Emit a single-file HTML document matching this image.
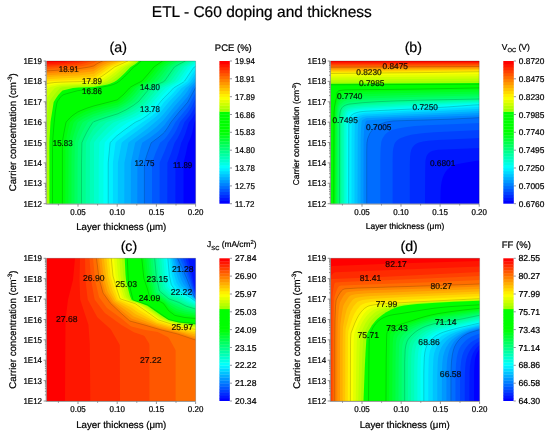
<!DOCTYPE html>
<html><head><meta charset="utf-8"><title>ETL - C60 doping and thickness</title>
<style>
html,body{margin:0;padding:0;background:#fff}
svg{display:block;font-family:"Liberation Sans",Arial,sans-serif;fill:#000;text-rendering:geometricPrecision}
text{stroke:#000;stroke-width:.22px}
.tk{font-size:8.4px}
</style></head><body>
<svg width="550" height="435" viewBox="0 0 550 435" shape-rendering="geometricPrecision">
<rect width="550" height="435" fill="#fff"/>
<text x="261.8" y="17.2" text-anchor="middle" font-size="15.5" stroke-width=".1">ETL - C60 doping and thickness</text>
<g><rect x="45.1" y="59.5" width="152" height="145.7" fill="#0000ff"/>
<path fill="#0016ff" d="M46.6,59.5 197.1,59.5 197.1,120.3 195.6,120.3 194.5,121.9 192.2,132.8 190.6,137.8 188.3,142.8 187.6,145.1 185.6,154.5 183.5,162.8 183.5,205.2 45.1,205.2 45.1,59.5Z"/>
<path fill="#002bff" d="M46.6,59.5 197.1,59.5 197.1,112.5 195.6,112.5 193.1,116.9 191,119.9 189.2,121.9 188.7,122.9 185.3,133.8 183.6,138 181.3,142.8 178.6,153 175.5,162.8 175.4,205.2 45.1,205.2 45.1,59.5Z"/>
<path fill="#0041ff" d="M46.6,59.5 197.1,59.5 197.1,104.8 195.6,104.8 193.2,109.9 190.9,113.9 188.7,116.9 184.5,121.9 181.9,128.9 179.7,133.8 177.6,137.9 174.6,142.8 171.3,152.8 167.4,162.8 167.3,205.2 45.1,205.2 45.1,59.5Z"/>
<path fill="#0057ff" d="M46.6,59.5 197.1,59.5 197.1,98.4 195.6,98.4 191.4,106.9 189,110.9 187.6,112.9 180,121.9 176.9,128.9 174.6,133.2 171.6,137.8 167.9,142.8 164.6,151.3 159.6,162.8 159.6,205.2 45.1,205.2 45.1,59.5Z"/>
<path fill="#006dff" d="M46.6,59.5 197.1,59.5 197.1,93 195.6,93 189.6,104.3 187.6,107.6 175.5,121.9 171.6,129.3 167.6,135.3 164.6,139 160.1,142.8 155.7,152.8 152,162.8 152,205.2 45.1,205.2 45.1,59.5Z"/>
<path fill="#0082ff" d="M46.6,59.5 197.1,59.5 197.1,87.7 195.6,87.7 195.4,87.9 187.6,102.3 179.2,111.9 171.1,121.9 167.6,127.7 164.6,132 162.7,133.8 159.2,136.8 151.2,142.8 148.9,148.8 144.4,162.8 144.4,205.2 45.1,205.2 45.1,59.5Z"/>
<path fill="#0098ff" d="M46.6,59.5 197.1,59.5 197.1,84.6 195.6,84.6 192.3,87.9 187.6,96.7 172.1,114.9 166.6,121.9 164.6,124.9 163.6,126.1 158.7,130.9 153.9,134.8 149.6,138 142.2,142.8 140.6,148.3 137.4,162.8 137.3,205.2 45.1,205.2 45.1,59.5Z"/>
<path fill="#00aeff" d="M46.6,59.5 197.1,59.5 197.1,81.5 195.6,81.5 193.3,84 190.2,86.9 189.3,87.9 187.6,91 184.6,94.9 174.6,106.3 163.5,119.9 156.2,126.9 151.6,130.8 146.3,134.8 140.6,138.5 136.2,141.8 135.2,142.8 130.9,162.8 130.8,205.2 45.1,205.2 45.1,59.5Z"/>
<path fill="#00c3ff" d="M46.6,59.5 197.1,59.5 197.1,77.6 195.6,77.6 192.5,82 188.6,85.7 185.8,87.9 180.2,94.9 173.6,101.9 163.6,114 160,117.9 147.6,128.5 132.6,139.4 129.4,141.8 128.4,142.8 124.4,162.8 124.3,205.2 45.1,205.2 45.1,59.5Z"/>
<path fill="#00d9ff" d="M46.6,59.5 197.1,59.5 197.1,73.5 195.6,73.5 190.6,81 189.8,82 187.6,84 181.7,87.9 175.6,95.1 168.8,101.9 160.7,111.9 156.6,116.1 153.6,118.6 149,121.9 142.6,127.1 126.6,138.8 122.7,141.8 121.7,142.8 117.9,162.8 117.8,205.2 45.1,205.2 45.1,59.5Z"/>
<path fill="#00efff" d="M46.6,59.5 197.1,59.5 197.1,69.4 195.6,69.4 191.6,74.9 187.6,81.3 184.6,83.6 177.7,87.9 171.6,94.7 164.1,101.9 161.3,105.9 158.6,109.2 155.6,112.4 152.6,115.2 148.6,118.3 142.9,121.9 127.6,132.9 117.6,140.5 116.2,141.8 115.5,142.8 112.9,162.8 112.9,205.2 45.1,205.2 45.1,59.5Z"/>
<path fill="#00fffa" d="M46.6,59.5 197.1,59.5 197.1,66.2 195.6,66.2 194.3,67 193.4,68 190.6,72 184.6,81 183.5,82 181.6,83.2 173.6,87.9 169,92.9 163.6,98.2 160.4,101.9 158.1,104.9 155.6,107.9 152.6,110.9 149.6,113.6 145.6,116.6 142.1,118.9 134.3,122.9 124.6,129.9 116.6,136 111.7,140.8 110.1,142.8 108.2,162.8 108.2,205.2 45.1,205.2 45.1,59.5Z"/>
<path fill="#00ffe4" d="M46.6,59.5 197.1,59.5 197.1,64.1 195.6,64.1 191,67 189.4,69 181.3,81 180.2,82 177.6,83.5 169.6,87.9 162.8,94.9 153.3,105.9 149.3,109.9 144.6,113.7 140.6,116.5 134.6,119.5 128.8,121.9 127,122.9 123.6,125.3 117.6,129.8 115.2,131.9 110,136.8 105.4,141.8 104.7,142.8 103.5,162.8 103.4,205.2 45.1,205.2 45.1,59.5Z"/>
<path fill="#00ffce" d="M46.6,59.5 197.1,59.5 197.1,62 195.6,62 191.6,64.7 187.7,67 178,81 176.8,82 174.6,83.2 165.5,87.9 159.6,94.3 151.3,103.9 145.6,109.3 140.6,113.1 135.8,115.9 130.6,118.4 121.6,121.9 119.7,122.9 114.6,126.9 109.6,131.4 104.6,136.5 100,141.8 99.4,142.8 98.7,162.8 98.7,205.2 45.1,205.2 45.1,59.5Z"/>
<path fill="#00ffb8" d="M46.6,59.5 194.2,59.5 194.2,61 189.6,64.1 184.4,67 174.7,81 173.4,82 171.6,83 163.3,86.9 161.6,87.9 155.6,94.6 149.4,101.9 146.4,104.9 143,107.9 138.6,111.2 131.6,115.1 123.6,118.7 114.4,121.9 112.7,122.9 107.6,127.3 103,131.9 98.6,136.8 94.5,141.8 94,142.8 94,205.2 45.1,205.2 45.1,59.5Z"/>
<path fill="#00ffa3" d="M46.6,59.5 191.5,59.5 191.5,61 187.6,63.5 181,67 171.3,81 170,82 168.1,83 159.4,86.9 157.7,87.9 145.7,101.9 140.6,106.5 134,110.9 126.6,114.8 118.6,118.1 107.4,121.9 105.8,122.9 99.6,128.9 93.6,135.8 90.8,140.8 89.9,142.8 89.8,205.2 45.1,205.2 45.1,59.5Z"/>
<path fill="#00ff8d" d="M46.6,59.5 188.8,59.5 188.8,61 177.7,67 168,81 166.6,82 164.6,83 155.5,86.9 153.9,87.9 142,101.9 137.6,105.5 130.6,110 126.6,112.2 121.6,114.5 117.6,116.2 100.5,121.9 99,122.9 93.6,128.6 89.3,135.8 86.7,140.8 85.9,142.8 85.7,162.8 85.7,205.2 45.1,205.2 45.1,59.5Z"/>
<path fill="#00ff77" d="M46.6,59.5 185.5,59.5 185.5,61 179.6,64 174.4,67 164.7,81 163.1,82 151.7,86.9 150,87.9 138.6,101.5 133.6,105.3 126,109.9 117.6,113.9 106.6,117.3 98.6,120 93.6,121.8 92.5,122.9 89.6,127.3 86.6,132.6 83.6,138.7 81.9,142.8 81.5,162.8 81.5,205.2 45.1,205.2 45.1,59.5Z"/>
<path fill="#00ff62" d="M46.6,59.5 181.6,59.5 181.6,61 176,64 171.1,67 164.6,76.3 160.9,81 159.3,82 147.8,86.9 146.1,87.9 136.2,99.9 134.2,101.9 131.4,103.9 124.9,107.9 117.6,111.6 104.6,115.5 93.6,119.2 88.3,121.9 87.4,122.9 84.6,127.7 82,132.8 78.9,139.8 77.9,142.8 77.5,162.8 77.5,205.2 45.1,205.2 45.1,59.5Z"/>
<path fill="#00ff4c" d="M46.6,59.5 177.8,59.5 177.8,61 172.6,63.9 167.8,67 163.6,72.8 157.2,81 155.5,82 143.9,86.9 142.3,87.9 137.6,94 134.6,97.5 131.3,100.9 128.6,103 123.6,106.1 117.6,109.3 103.6,113.3 93.6,116.5 84.9,120.9 83.1,121.9 82.3,122.9 79.3,128.9 77.6,132.9 74.8,142.8 74.5,162.8 74.5,205.2 45.1,205.2 45.1,59.5Z"/>
<path fill="#00ff36" d="M46.6,59.5 174,59.5 174,61 168.9,64 164.5,67 158.6,74.6 153.4,81 151.7,82 140.6,86.7 138.9,87.9 135.9,91.9 132.5,95.9 128.5,99.9 125.6,102.4 117.6,107 102.6,111.1 92.6,114.3 84.6,118 78,121.9 77.4,122.9 75.1,129.9 73.1,136.8 71.7,142.8 71.4,162.8 71.4,205.2 45.1,205.2 45.1,59.5Z"/>
<path fill="#00ff21" d="M46.6,59.5 170.1,59.5 170.1,61 166.6,63.1 161,67 154.6,75 149.6,81 147.9,82 139.6,85.6 137.1,86.9 135.8,87.9 132.6,91.9 129.6,95.3 125.9,98.9 122.3,101.9 117.6,104.7 116.6,105 99.6,109.5 93.6,111.3 89.4,112.9 83.6,115.5 78.6,118.2 76.6,119.6 74.1,121.9 73.5,122.9 71.3,130.9 68.5,142.8 68.4,205.2 45.1,205.2 45.1,59.5Z"/>
<path fill="#00ff0b" d="M46.6,59.5 166.3,59.5 166.3,61 157.4,67 150.9,75 145.8,81 144.1,82 138.6,84.4 134,86.9 132.7,87.9 129.3,91.9 125.4,95.9 121.6,99.4 118.4,101.9 116.6,102.7 104.6,105.6 93.6,108.6 85.6,111.6 80.6,113.9 77.6,115.4 73.6,118.5 70.2,121.9 69.7,122.9 67.8,130.9 65.4,142.8 65.3,205.2 45.1,205.2 45.1,59.5Z"/>
<path fill="#00ff00" d="M46.6,59.5 162.6,59.5 162.6,61 153.9,67 147.3,75 142,81 134.6,84.8 130.9,86.9 129.6,87.9 123.6,94.4 117.6,99.6 116.6,100 109.7,101.9 93.6,106 86.6,108.3 80.6,110.7 77.6,112.1 72.6,115.5 69.6,118.2 66.3,121.9 65.9,122.9 64.1,131.9 62.6,140.5 62.4,142.8 62.4,205.2 45.1,205.2 45.1,59.5Z"/>
<path fill="#00ff00" d="M46.6,59.5 159,59.5 159,61 150.4,67 138.2,81 131.6,84.6 127.8,86.9 126.6,87.9 121.7,92.9 117.6,96.6 116.6,97.1 114.6,97.7 88.6,104.7 82.6,106.7 77.6,108.7 73.6,111 69.6,113.9 65.6,117.8 62.6,121.6 61.6,131.2 60.8,142.8 60.8,205.2 45.1,205.2 45.1,59.5Z"/>
<path fill="#00ff00" d="M46.6,59.5 155.4,59.5 155.4,61 146.8,67 138.2,77 134.5,81 128.6,84.4 124.7,86.9 117.6,93.6 115.6,94.4 85,102.9 77.6,105.4 73.6,107.2 69.2,109.9 65.6,112.8 62.6,115.9 61.6,118.6 60.8,121.9 59.4,142.8 59.4,205.2 45.1,205.2 45.1,59.5Z"/>
<path fill="#00ff00" d="M46.6,59.5 151.8,59.5 151.8,61 143.3,67 136.5,75 130.8,81 122.6,86.2 120.4,87.9 117.6,90.7 116.6,91.2 98.6,96.3 83.6,100.1 75.6,102.7 71.6,104.3 68.5,105.9 65.4,107.9 62.6,110.2 61.6,112.4 60.8,114.9 59.2,121.9 57.9,141.8 57.9,205.2 45.1,205.2 45.1,59.5Z"/>
<path fill="#00ff00" d="M46.6,59.5 148.2,59.5 148.2,61 139.9,67 133.6,74.4 127.1,81 121.6,84.6 117.6,87.7 116.6,88.3 93.6,94.8 84.6,96.5 77.6,98.3 67.3,101.9 63.6,103.8 62.6,104.4 62.3,104.9 60.9,107.9 59.6,111.9 58.2,117.9 57.5,122.9 56.4,142.8 56.4,205.2 45.1,205.2 45.1,59.5Z"/>
<path fill="#00ff00" d="M46.6,59.5 144.6,59.5 144.6,61 141.6,63.1 138.6,65.7 136.8,67 130.6,74 125.6,79 123.4,81 116.6,85.6 113.6,86.5 107.6,87.9 93.6,91.9 82.6,93.5 78.6,94.3 75.6,95.1 68.6,97.3 62.6,99.4 61.6,100.4 60.5,101.9 59,105.9 57.7,110.9 56.6,116.9 55.9,122.9 55,142.8 55,205.2 45.1,205.2 45.1,59.5Z"/>
<path fill="#00ff00" d="M46.6,59.5 141.2,59.5 141.2,61 139.1,63 136.6,65.1 133.7,67 128.6,72.6 124.2,77 119.7,81 116.6,83.1 113.6,84.4 109.6,85.6 97.6,87.9 93.6,89.1 84.6,89.9 77.6,90.7 66.6,93.7 62.6,95 60.6,97 57.8,100.9 57.2,101.9 56.6,104.2 55.3,111.9 54.1,122.9 52.5,142.8 52.5,205.2 45.1,205.2 45.1,59.5Z"/>
<path fill="#a3ff00" d="M46.6,59.5 138.9,59.5 138.9,61 137.6,62.2 134.6,64.6 130.6,67 124.9,73 120.7,77 116.6,80.4 114.1,82 110.6,83.4 107.6,84.4 99.6,86.1 93.6,87 78.6,87.5 73,87.9 62.6,90.6 61,91.9 58.3,94.9 56.2,97.9 53.7,101.9 50.5,121.9 49.4,141.8 49.4,205.2 45.1,205.2 45.1,59.5Z"/>
<path fill="#b8ff00" d="M46.6,59.5 136.7,59.5 136.7,61 135.6,62 131.6,64.8 127.5,67 121.6,72.9 117.6,76.6 111.6,81 108.6,82.3 101.6,84.4 93.6,85.9 77.6,86.2 68.6,86.7 62.6,87.2 60.2,87.9 56.4,91.9 51.6,98.2 49.2,101.9 47.7,112.9 46.6,122.5 45.1,122.5 45.1,59.5Z"/>
<path fill="#ceff00" d="M46.6,59.5 134.5,59.5 134.5,61 133.3,62 129.6,64.5 124.4,67 116.6,74.3 108.6,80.1 107.3,81 105.6,81.7 100.6,83.3 93.6,84.8 77.6,85.1 62.6,85.9 57.3,86.9 54.9,87.9 52.6,90.4 49.6,93.9 46.6,98.4 45.1,98.4 45.1,59.5Z"/>
<path fill="#e4ff00" d="M46.6,59.5 132.4,59.5 132.4,61 131,62 127.6,64.1 121.2,67 116.6,71.3 110.6,75.8 103,81 100.5,82 93.6,83.6 77.6,83.9 62.6,84.6 60.6,84.8 56.6,85.6 50.7,86.9 48.5,87.9 46.6,90.2 45.1,90.2 45.1,59.5Z"/>
<path fill="#faff00" d="M46.6,59.5 130.2,59.5 130.2,61 128.8,62 118.1,67 111.6,72.2 104.6,77.2 98.8,81 96,82 93.6,82.5 77.6,82.8 61.6,83.4 53.6,84.4 46.6,86 45.1,86 45.1,59.5Z"/>
<path fill="#ffef00" d="M46.6,59.5 128,59.5 128,61 114.6,67 108,72 102.6,75.8 95.6,80.3 94.5,81 93.6,81.2 60.6,82.2 53.6,82.6 46.6,83.6 45.1,83.6 45.1,59.5Z"/>
<path fill="#ffd900" d="M46.6,59.5 124.8,59.5 124.8,61 117.6,64.2 110.9,67 101.6,73.8 93.6,78.9 77.6,79.8 54.6,80.7 46.6,81.3 45.1,81.3 45.1,59.5Z"/>
<path fill="#ffc300" d="M46.6,59.5 121.5,59.5 121.5,61 117.6,62.8 111.5,65 107.2,67 99.6,72.5 93.6,76.4 78.6,77.6 54.6,78.7 46.6,79.3 45.1,79.3 45.1,59.5Z"/>
<path fill="#ffae00" d="M46.6,59.5 118.2,59.5 118.2,61 110.6,63.7 105.4,66 103.5,67 93.6,73.8 77.6,75.4 54.6,76.6 46.6,77.2 45.1,77.2 45.1,59.5Z"/>
<path fill="#ff9800" d="M46.6,59.5 113.4,59.5 113.4,61 107.7,63 103.3,65 99.8,67 93.6,71.3 77.6,73.3 46.6,75.2 45.1,75.2 45.1,59.5Z"/>
<path fill="#ff8200" d="M46.6,59.5 108,59.5 108,61 104.6,62.3 100.6,64.2 97.6,66 93.6,68.7 77.6,71.1 46.6,73.2 45.1,73.2 45.1,59.5Z"/>
<path fill="#ff6d00" d="M46.6,59.5 102.7,59.5 102.7,61 97.6,63.4 93.6,66 90.6,66.7 77.6,68.9 46.6,71.1 45.1,71.1 45.1,59.5Z"/>
<path fill="#ff5700" d="M46.6,59.5 97.3,59.5 97.3,61 93.6,63.1 88.6,64.6 82.6,66 77.6,66.8 46.6,69.1 45.1,69.1 45.1,59.5Z"/>
<path fill="#ff4100" d="M46.6,59.5 91.5,59.5 91.5,61 85.6,63 78.6,64.7 65.2,66 46.6,67.1 45.1,67.1 45.1,59.5Z"/>
<path fill="#ff2b00" d="M46.6,59.5 84.8,59.5 84.8,61 77.6,63 62.6,64.7 46.6,65.5 45.1,65.5 45.1,59.5Z"/>
<path fill="#ff1600" d="M46.6,59.5 78,59.5 78,61 71.6,62 62.6,63.2 46.6,63.9 45.1,63.9 45.1,59.5Z"/>
<path fill="#ff0000" d="M46.6,59.5 67.4,59.5 67.4,61 64.6,61.4 61.6,61.7 54.6,62.1 46.6,62.4 45.1,62.4 45.1,59.5Z"/>
<path fill="none" stroke="#000" stroke-opacity=".28" stroke-width=".6" d="M197.1,87.7 195.6,87.7 195.4,87.9 187.6,102.3 179.2,111.9 171.1,121.9 167.6,127.7 164.6,132 162.7,133.8 159.2,136.8 151.2,142.8 147.6,152.6 144.4,162.8 144.4,205.2M197.1,66.2 195.6,66.2 194.3,67 193.4,68 190.6,72 184.6,81 183.5,82 181.6,83.2 173.6,87.9 169,92.9 163.6,98.2 160.4,101.9 158.1,104.9 155.6,107.9 150.6,112.7 146.6,115.9 142.6,118.6 140.6,119.8 136,121.9 134.3,122.9 123.6,130.6 116.6,136 111.7,140.8 110.1,142.8 108.2,162.8 108.2,205.2M185.5,59.5 185.5,61 179.6,64 174.4,67 164.7,81 163.1,82 151.7,86.9 150,87.9 138.6,101.5 133.6,105.3 126,109.9 117.6,113.9 106.6,117.3 98.6,120 93.6,121.8 92.5,122.9 89.6,127.3 86.6,132.6 83.6,138.7 81.9,142.8 81.5,162.8 81.5,205.2M162.6,59.5 162.6,61 153.9,67 147.3,75 142,81 134.6,84.8 130.9,86.9 129.6,87.9 123.6,94.4 117.6,99.6 116.6,100 109.7,101.9 93.6,106 86.6,108.3 80.6,110.7 77.6,112.1 72.6,115.5 69.6,118.2 66.3,121.9 65.9,122.9 64.1,131.9 62.6,140.5 62.4,142.8 62.4,205.2M141.2,59.5 141.2,61 139.1,63 136.6,65.1 133.7,67 128.6,72.6 124.2,77 119.7,81 116.6,83.1 113.6,84.4 109.6,85.6 97.6,87.9 93.6,89.1 84.6,89.9 77.6,90.7 66.6,93.7 62.6,95 60.6,97 57.8,100.9 57.2,101.9 56.6,104.2 55.3,111.9 54.1,122.9 52.5,142.8 52.5,205.2M128,59.5 128,61 114.6,67 108,72 102.6,75.8 95.6,80.3 94.5,81 93.6,81.2 60.6,82.2 54.6,82.5 46.6,83.6 45.1,83.6M102.7,59.5 102.7,61 97.6,63.4 93.6,66 89.6,67 77.6,68.9 45.1,71.1"/>
<path fill="#fff" fill-rule="evenodd" d="M42.6,57H199.6V207.7H42.6ZM46.6,61H195.6V203.7H46.6Z"/>
<path fill="none" stroke="#000" stroke-opacity=".35" stroke-width=".6" d="M46.6,61H195.6V203.7"/>
<path fill="none" stroke="#666" stroke-width=".7" d="M46.2,61 V204.1M46.2,204.1 H195.6M46.2,61.0 h-2.6M46.2,75.2 h-1.3M46.2,71.7 h-1.3M46.2,69.1 h-1.3M46.2,67.1 h-1.3M46.2,65.5 h-1.3M46.2,64.2 h-1.3M46.2,63.0 h-1.3M46.2,61.9 h-1.3M46.2,81.4 h-2.6M46.2,95.6 h-1.3M46.2,92.0 h-1.3M46.2,89.5 h-1.3M46.2,87.5 h-1.3M46.2,85.9 h-1.3M46.2,84.5 h-1.3M46.2,83.4 h-1.3M46.2,82.3 h-1.3M46.2,101.8 h-2.6M46.2,116.0 h-1.3M46.2,112.4 h-1.3M46.2,109.9 h-1.3M46.2,107.9 h-1.3M46.2,106.3 h-1.3M46.2,104.9 h-1.3M46.2,103.7 h-1.3M46.2,102.7 h-1.3M46.2,122.2 h-2.6M46.2,136.4 h-1.3M46.2,132.8 h-1.3M46.2,130.3 h-1.3M46.2,128.3 h-1.3M46.2,126.7 h-1.3M46.2,125.3 h-1.3M46.2,124.1 h-1.3M46.2,123.1 h-1.3M46.2,142.5 h-2.6M46.2,156.8 h-1.3M46.2,153.2 h-1.3M46.2,150.7 h-1.3M46.2,148.7 h-1.3M46.2,147.1 h-1.3M46.2,145.7 h-1.3M46.2,144.5 h-1.3M46.2,143.5 h-1.3M46.2,162.9 h-2.6M46.2,177.2 h-1.3M46.2,173.6 h-1.3M46.2,171.0 h-1.3M46.2,169.1 h-1.3M46.2,167.5 h-1.3M46.2,166.1 h-1.3M46.2,164.9 h-1.3M46.2,163.9 h-1.3M46.2,183.3 h-2.6M46.2,197.6 h-1.3M46.2,194.0 h-1.3M46.2,191.4 h-1.3M46.2,189.5 h-1.3M46.2,187.8 h-1.3M46.2,186.5 h-1.3M46.2,185.3 h-1.3M46.2,184.2 h-1.3M46.2,203.7 h-2.6M78.0,204.1 v2.6M117.2,204.1 v2.6M156.4,204.1 v2.6M195.6,204.1 v2.6M58.4,204.1 v1.4M97.6,204.1 v1.4M136.8,204.1 v1.4M176.0,204.1 v1.4"/>
<g class="tk"><text transform="translate(42,64.0) scale(.95,1)" text-anchor="end">1E19</text><text transform="translate(42,84.4) scale(.95,1)" text-anchor="end">1E18</text><text transform="translate(42,104.8) scale(.95,1)" text-anchor="end">1E17</text><text transform="translate(42,125.2) scale(.95,1)" text-anchor="end">1E16</text><text transform="translate(42,145.5) scale(.95,1)" text-anchor="end">1E15</text><text transform="translate(42,165.9) scale(.95,1)" text-anchor="end">1E14</text><text transform="translate(42,186.3) scale(.95,1)" text-anchor="end">1E13</text><text transform="translate(42,206.7) scale(.95,1)" text-anchor="end">1E12</text><text transform="translate(78.0,214.9) scale(.95,1)" text-anchor="middle">0.05</text><text transform="translate(117.2,214.9) scale(.95,1)" text-anchor="middle">0.10</text><text transform="translate(156.4,214.9) scale(.95,1)" text-anchor="middle">0.15</text><text transform="translate(195.6,214.9) scale(.95,1)" text-anchor="middle">0.20</text></g>
<text transform="translate(15.6,132.3) rotate(-90)" text-anchor="middle" font-size="9.7">Carrier concentration (cm<tspan font-size="6.3" dy="-3.9">-3</tspan><tspan dy="3.9">)</tspan></text>
<text x="121.3" y="230" text-anchor="middle" font-size="9.7">Layer thickness (&#956;m)</text>
<text x="118.2" y="51.7" text-anchor="middle" font-size="14.2">(a)</text>
<g class="tk" text-anchor="middle" opacity=".88" style="font-size:8.4px"><text transform="translate(68.7,71.9) scale(0.95,1)">18.91</text><text transform="translate(92,83.7) scale(0.95,1)">17.89</text><text transform="translate(92,93.8) scale(0.95,1)">16.86</text><text transform="translate(150,90.4) scale(0.95,1)">14.80</text><text transform="translate(150,111.7) scale(0.95,1)">13.78</text><text transform="translate(62.7,145.8) scale(0.95,1)">15.83</text><text transform="translate(144.5,166) scale(0.95,1)">12.75</text><text transform="translate(182.6,167.6) scale(0.95,1)">11.89</text></g>
<rect x="219.4" y="200.73" width="10.4" height="2.97" fill="#0000ff"/>
<rect x="219.4" y="197.75" width="10.4" height="3.27" fill="#0016ff"/>
<rect x="219.4" y="194.78" width="10.4" height="3.27" fill="#002bff"/>
<rect x="219.4" y="191.81" width="10.4" height="3.27" fill="#0041ff"/>
<rect x="219.4" y="188.84" width="10.4" height="3.27" fill="#0057ff"/>
<rect x="219.4" y="185.86" width="10.4" height="3.27" fill="#006dff"/>
<rect x="219.4" y="182.89" width="10.4" height="3.27" fill="#0082ff"/>
<rect x="219.4" y="179.92" width="10.4" height="3.27" fill="#0098ff"/>
<rect x="219.4" y="176.94" width="10.4" height="3.27" fill="#00aeff"/>
<rect x="219.4" y="173.97" width="10.4" height="3.27" fill="#00c3ff"/>
<rect x="219.4" y="171.00" width="10.4" height="3.27" fill="#00d9ff"/>
<rect x="219.4" y="168.02" width="10.4" height="3.27" fill="#00efff"/>
<rect x="219.4" y="165.05" width="10.4" height="3.27" fill="#00fffa"/>
<rect x="219.4" y="162.08" width="10.4" height="3.27" fill="#00ffe4"/>
<rect x="219.4" y="159.11" width="10.4" height="3.27" fill="#00ffce"/>
<rect x="219.4" y="156.13" width="10.4" height="3.27" fill="#00ffb8"/>
<rect x="219.4" y="153.16" width="10.4" height="3.27" fill="#00ffa3"/>
<rect x="219.4" y="150.19" width="10.4" height="3.27" fill="#00ff8d"/>
<rect x="219.4" y="147.21" width="10.4" height="3.27" fill="#00ff77"/>
<rect x="219.4" y="144.24" width="10.4" height="3.27" fill="#00ff62"/>
<rect x="219.4" y="141.27" width="10.4" height="3.27" fill="#00ff4c"/>
<rect x="219.4" y="138.30" width="10.4" height="3.27" fill="#00ff36"/>
<rect x="219.4" y="135.32" width="10.4" height="3.27" fill="#00ff21"/>
<rect x="219.4" y="132.35" width="10.4" height="3.27" fill="#00ff0b"/>
<rect x="219.4" y="129.38" width="10.4" height="3.27" fill="#00ff00"/>
<rect x="219.4" y="126.40" width="10.4" height="3.27" fill="#00ff00"/>
<rect x="219.4" y="123.43" width="10.4" height="3.27" fill="#00ff00"/>
<rect x="219.4" y="120.46" width="10.4" height="3.27" fill="#00ff00"/>
<rect x="219.4" y="117.49" width="10.4" height="3.27" fill="#00ff00"/>
<rect x="219.4" y="114.51" width="10.4" height="3.27" fill="#00ff00"/>
<rect x="219.4" y="111.54" width="10.4" height="3.27" fill="#00ff00"/>
<rect x="219.4" y="108.57" width="10.4" height="3.27" fill="#a3ff00"/>
<rect x="219.4" y="105.59" width="10.4" height="3.27" fill="#b8ff00"/>
<rect x="219.4" y="102.62" width="10.4" height="3.27" fill="#ceff00"/>
<rect x="219.4" y="99.65" width="10.4" height="3.27" fill="#e4ff00"/>
<rect x="219.4" y="96.67" width="10.4" height="3.27" fill="#faff00"/>
<rect x="219.4" y="93.70" width="10.4" height="3.27" fill="#ffef00"/>
<rect x="219.4" y="90.73" width="10.4" height="3.27" fill="#ffd900"/>
<rect x="219.4" y="87.76" width="10.4" height="3.27" fill="#ffc300"/>
<rect x="219.4" y="84.78" width="10.4" height="3.27" fill="#ffae00"/>
<rect x="219.4" y="81.81" width="10.4" height="3.27" fill="#ff9800"/>
<rect x="219.4" y="78.84" width="10.4" height="3.27" fill="#ff8200"/>
<rect x="219.4" y="75.86" width="10.4" height="3.27" fill="#ff6d00"/>
<rect x="219.4" y="72.89" width="10.4" height="3.27" fill="#ff5700"/>
<rect x="219.4" y="69.92" width="10.4" height="3.27" fill="#ff4100"/>
<rect x="219.4" y="66.95" width="10.4" height="3.27" fill="#ff2b00"/>
<rect x="219.4" y="63.97" width="10.4" height="3.27" fill="#ff1600"/>
<rect x="219.4" y="61.00" width="10.4" height="3.27" fill="#ff0000"/>
<line x1="229.8" x2="232" y1="203.7" y2="203.7" stroke="#667" stroke-width=".7"/>
<line x1="229.8" x2="232" y1="185.9" y2="185.9" stroke="#667" stroke-width=".7"/>
<line x1="229.8" x2="232" y1="168.0" y2="168.0" stroke="#667" stroke-width=".7"/>
<line x1="229.8" x2="232" y1="150.2" y2="150.2" stroke="#667" stroke-width=".7"/>
<line x1="229.8" x2="232" y1="132.3" y2="132.3" stroke="#667" stroke-width=".7"/>
<line x1="229.8" x2="232" y1="114.5" y2="114.5" stroke="#667" stroke-width=".7"/>
<line x1="229.8" x2="232" y1="96.7" y2="96.7" stroke="#667" stroke-width=".7"/>
<line x1="229.8" x2="232" y1="78.8" y2="78.8" stroke="#667" stroke-width=".7"/>
<line x1="229.8" x2="232" y1="61.0" y2="61.0" stroke="#667" stroke-width=".7"/>
<g class="tk" style="font-size:8.4px"><text transform="translate(235,206.7) scale(0.95,1)">11.72</text><text transform="translate(235,188.9) scale(0.95,1)">12.75</text><text transform="translate(235,171.0) scale(0.95,1)">13.78</text><text transform="translate(235,153.2) scale(0.95,1)">14.80</text><text transform="translate(235,135.4) scale(0.95,1)">15.83</text><text transform="translate(235,117.5) scale(0.95,1)">16.86</text><text transform="translate(235,99.7) scale(0.95,1)">17.89</text><text transform="translate(235,81.8) scale(0.95,1)">18.91</text><text transform="translate(235,64.0) scale(0.95,1)">19.94</text></g>
<text x="214.8" y="51.1" font-size="9.5">PCE (%)</text></g>
<g><rect x="329.2" y="59.5" width="151.5" height="145.7" fill="#0000ff"/>
<path fill="#0016ff" d="M330.7,59.5 480.7,59.5 480.7,160.5 476.4,160.8 466.2,162.4 459.1,163.7 454.6,164.8 452.3,165.8 450.7,166.8 449.1,168 447.2,169.8 445.6,171.8 443.9,174.8 442.7,177.8 441.6,181.7 441,185.7 440.6,190.7 440.3,205.2 329.2,205.2 329.2,59.5Z"/>
<path fill="#002bff" d="M330.7,59.5 480.7,59.5 480.7,148.1 450.1,149.2 438.1,149.8 435.1,150.3 432,151.1 430,152 428,153.7 427,155.2 426.3,156.8 425.6,159.8 425.4,161.8 425.2,170.8 425,205.2 329.2,205.2 329.2,59.5Z"/>
<path fill="#0041ff" d="M330.7,59.5 480.7,59.5 480.7,137.9 438.1,140 428,140.7 423,141.4 419,142.5 416.1,143.8 414,145.5 412.2,147.8 411.3,149.8 410.5,152.8 410.1,156.8 409.8,164.8 409.8,205.2 329.2,205.2 329.2,59.5Z"/>
<path fill="#0057ff" d="M330.7,59.5 480.7,59.5 480.7,130 434,132.3 425,133 418,133.7 411.1,134.8 404.9,136.5 400.9,138 398.9,139.1 396.9,140.6 395,142.8 394.2,144.8 393.4,147.8 392.8,151.8 392.6,161.8 392.6,205.2 329.2,205.2 329.2,59.5Z"/>
<path fill="#006dff" d="M330.7,59.5 480.7,59.5 480.7,123 427,125.3 415,126.1 405,127.2 397.9,128.4 391.9,129.9 388.9,131.5 387,132.8 384.9,134.8 383.9,136.2 382.3,138.8 381.3,141.8 380.6,148.8 380.3,159.8 380.3,205.2 329.2,205.2 329.2,59.5Z"/>
<path fill="#0082ff" d="M330.7,59.5 480.7,59.5 480.7,117.6 449.1,119.3 398.9,120.7 391.9,121 385.9,122.1 382.9,123.1 379.9,124.4 377.2,125.9 374.8,127.5 372.8,129.3 371.5,130.9 369.6,133.8 368,137.8 367.2,140.8 366.8,144.6 366.7,205.2 329.2,205.2 329.2,59.5Z"/>
<path fill="#0098ff" d="M330.7,59.5 480.7,59.5 480.7,115.3 389.9,118.8 373.2,119.9 366.8,120.5 366,120.9 365.2,122.9 364.5,126.9 364,131.9 363.6,138.8 363.5,205.2 329.2,205.2 329.2,59.5Z"/>
<path fill="#00aeff" d="M330.7,59.5 480.7,59.5 480.7,113.1 388.9,116.9 370.1,117.9 366.8,118.1 364.8,118.7 362.8,119.8 361.8,120.8 361,127.9 360.6,139.8 360.5,205.2 329.2,205.2 329.2,59.5Z"/>
<path fill="#00c3ff" d="M330.7,59.5 480.7,59.5 480.7,111 440.1,112.9 366.8,116.2 362.8,117 360.9,117.9 359.6,118.9 358.8,119.9 358.3,120.9 357.7,132.8 357.5,205.2 329.2,205.2 329.2,59.5Z"/>
<path fill="#00d9ff" d="M330.7,59.5 480.7,59.5 480.7,108.8 439.1,111.1 366.8,114.4 363.8,114.8 360.8,115.5 357.8,116.9 356.6,117.9 355.8,119 355,120.9 354.7,128.9 354.5,142.8 354.5,205.2 329.2,205.2 329.2,59.5Z"/>
<path fill="#00efff" d="M330.7,59.5 480.7,59.5 480.7,106.7 434,109.6 365.8,112.8 360.8,113.5 357.8,114.3 355.8,115.2 353.6,116.9 352.9,117.9 352.1,119.9 351.8,120.9 351.7,124.9 351.5,142.8 351.5,205.2 329.2,205.2 329.2,59.5Z"/>
<path fill="#00fffa" d="M330.7,59.5 480.7,59.5 480.7,104.7 474.5,104.9 451.1,106.7 426,108.3 364.8,111.3 359.4,111.9 355.8,112.8 352.8,114.2 350.7,115.9 349.5,117.9 348.8,120.9 348.6,205.2 329.2,205.2 329.2,59.5Z"/>
<path fill="#00ffe4" d="M330.7,59.5 480.7,59.5 480.7,103.6 470.2,103.9 449.7,104.9 414,107.3 363.8,109.9 357.8,110.5 353.8,111.4 350.8,112.5 348.8,113.9 348.2,114.9 347.5,116.9 347.1,120.9 347,205.2 329.2,205.2 329.2,59.5Z"/>
<path fill="#00ffce" d="M330.7,59.5 480.7,59.5 480.7,102.7 439.1,104.2 364.8,108.4 358.8,108.9 353.8,109.6 349.1,110.9 347.8,111.8 347.1,112.9 346.3,114.9 345.8,117.9 345.6,120.9 345.5,205.2 329.2,205.2 329.2,59.5Z"/>
<path fill="#00ffb8" d="M330.7,59.5 480.7,59.5 480.7,101.8 454.1,102.5 425,103.7 364.8,107 356.8,107.7 350.8,108.6 348.8,109.1 347.8,109.6 346.2,110.9 345.1,112.9 344.6,114.9 344.2,117.9 344,120.9 344,205.2 329.2,205.2 329.2,59.5Z"/>
<path fill="#00ffa3" d="M330.7,59.5 480.7,59.5 480.7,100.8 453.1,101.5 425,102.5 400.9,103.6 364.8,105.5 355.8,106.3 348.8,107.4 346.8,108.2 345.8,108.9 344.8,109.9 343.7,111.9 343.1,113.9 342.7,116.9 342.5,120.9 342.5,205.2 329.2,205.2 329.2,59.5Z"/>
<path fill="#00ff8d" d="M330.7,59.5 480.7,59.5 480.7,99.9 447.1,100.6 417,101.5 393.9,102.5 364.8,104.2 355.8,104.9 348.8,105.8 345.8,106.8 343.7,108.4 342.7,109.9 341.9,111.9 341.4,114.9 341,119.9 341,205.2 329.2,205.2 329.2,59.5Z"/>
<path fill="#00ff77" d="M330.7,59.5 480.7,59.5 480.7,99 448.1,99.5 416,100.3 391.9,101.1 371.8,102.1 358.8,103 348.8,104.2 345.8,105.1 344.1,105.9 342.7,106.9 341.3,108.9 340.4,110.9 339.9,113.9 339.7,116.9 339.6,205.2 329.2,205.2 329.2,59.5Z"/>
<path fill="#00ff62" d="M330.7,59.5 480.7,59.5 480.7,97.1 389.9,99.6 362.8,100.6 355.8,101.2 348.8,102.2 346.8,102.8 344.7,103.7 342.7,104.8 341.3,105.9 339.8,107.9 339.5,108.9 338.9,111.9 338.7,116.9 338.6,205.2 329.2,205.2 329.2,59.5Z"/>
<path fill="#00ff4c" d="M330.7,59.5 480.7,59.5 480.7,95.2 402.9,97.2 366.8,98.4 356.8,98.9 348.8,99.7 346.8,100.2 343.7,101.6 339.8,104.9 338.9,106.9 338.3,108.9 337.9,111.9 337.7,116.9 337.7,205.2 329.2,205.2 329.2,59.5Z"/>
<path fill="#00ff36" d="M330.7,59.5 480.7,59.5 480.7,93.4 407,95 357.8,96.5 348.8,97.2 346.8,97.6 343.4,98.9 340.7,100.9 339.7,102 338,105.9 337.3,108.9 336.9,113.9 336.7,205.2 329.2,205.2 329.2,59.5Z"/>
<path fill="#00ff21" d="M330.7,59.5 480.7,59.5 480.7,91.5 402.9,93 354.8,94.3 348.8,94.7 345.8,95.2 342.7,96.5 340.7,97.7 339.7,98.6 338.5,100.9 336.8,105.9 336.3,108.9 336,112.9 335.8,120.9 335.8,205.2 329.2,205.2 329.2,59.5Z"/>
<path fill="#00ff0b" d="M330.7,59.5 480.7,59.5 480.7,89.6 409,90.8 354.8,92 347.8,92.3 343.7,92.7 341.7,93.3 340.4,93.9 339.7,94.5 339.3,95.9 337.7,98.7 336.7,101.9 335.5,106.9 335.1,111.9 334.9,120.9 334.9,205.2 334.7,205.2 329.2,205.2 329.2,59.5Z"/>
<path fill="#00ff00" d="M330.7,59.5 480.7,59.5 480.7,87.9 418,89.1 344.9,89.9 339.7,90.5 338.7,90.9 337.7,91.7 337,92.9 336.9,93.9 337.2,95.9 335.9,99.9 334.5,106.9 334,112.9 333.8,205.2 329.2,205.2 329.2,59.5Z"/>
<path fill="#00ff00" d="M330.7,59.5 480.7,59.5 480.7,87.2 343.7,88.9 337.7,89.2 334.4,89.9 334.1,90.9 334.2,91.9 335.6,95.9 333.7,104.3 332.7,106.6 332.1,108.9 331.6,111.9 331.4,116.9 331.3,205.2 329.2,205.2 329.2,59.5Z"/>
<path fill="#00ff00" d="M330.7,59.5 480.7,59.5 480.7,86.6 435.1,86.9 341.7,88.1 337.7,88.2 330.7,88.9 329.2,88.9 329.2,59.5ZM330.7,93.5 333.7,95.4 334.1,95.9 333.7,97.5 332.4,99.9 330.7,104.2 329.2,104.2 329.2,93.5Z"/>
<path fill="#00ff00" d="M330.7,59.5 480.7,59.5 480.7,86 341.7,87.3 330.7,87.7 329.2,87.7 329.2,59.5ZM330.7,95.8 330.9,95.9 330.7,96.3 329.2,96.3 329.2,95.8Z"/>
<path fill="#00ff00" d="M330.7,59.5 480.7,59.5 480.7,85.4 340.7,86.4 330.7,86.7 329.2,86.7 329.2,59.5Z"/>
<path fill="#00ff00" d="M330.7,59.5 480.7,59.5 480.7,84.9 340.7,85.6 330.7,85.8 329.2,85.8 329.2,59.5Z"/>
<path fill="#00ff00" d="M330.7,59.5 480.7,59.5 480.7,84.2 330.7,84.8 329.2,84.8 329.2,59.5Z"/>
<path fill="#a3ff00" d="M330.7,59.5 480.7,59.5 480.7,83.1 330.7,83.7 329.2,83.7 329.2,59.5Z"/>
<path fill="#b8ff00" d="M330.7,59.5 480.7,59.5 480.7,80.9 330.7,81.8 329.2,81.8 329.2,59.5Z"/>
<path fill="#ceff00" d="M330.7,59.5 480.7,59.5 480.7,78.6 330.7,79.7 329.2,79.7 329.2,59.5Z"/>
<path fill="#e4ff00" d="M330.7,59.5 480.7,59.5 480.7,76.2 330.7,77.6 329.2,77.6 329.2,59.5Z"/>
<path fill="#faff00" d="M330.7,59.5 480.7,59.5 480.7,73.9 330.7,75.4 329.2,75.4 329.2,59.5Z"/>
<path fill="#ffef00" d="M330.7,59.5 480.7,59.5 480.7,71.7 418,72.7 330.7,73.5 329.2,73.5 329.2,59.5Z"/>
<path fill="#ffd900" d="M330.7,59.5 480.7,59.5 480.7,70.7 354.8,72.2 330.7,72.3 329.2,72.3 329.2,59.5Z"/>
<path fill="#ffc300" d="M330.7,59.5 480.7,59.5 480.7,69.8 350.8,71.2 330.7,71.2 329.2,71.2 329.2,59.5Z"/>
<path fill="#ffae00" d="M330.7,59.5 480.7,59.5 480.7,69 330.7,70.2 329.2,70.2 329.2,59.5Z"/>
<path fill="#ff9800" d="M330.7,59.5 480.7,59.5 480.7,68.2 330.7,69.2 329.2,69.2 329.2,59.5Z"/>
<path fill="#ff8200" d="M330.7,59.5 480.7,59.5 480.7,67.3 330.7,68.2 329.2,68.2 329.2,59.5Z"/>
<path fill="#ff6d00" d="M330.7,59.5 480.7,59.5 480.7,66.5 330.7,67.2 329.2,67.2 329.2,59.5Z"/>
<path fill="#ff5700" d="M330.7,59.5 480.7,59.5 480.7,65.5 330.7,66.2 329.2,66.2 329.2,59.5Z"/>
<path fill="#ff4100" d="M330.7,59.5 480.7,59.5 480.7,64.6 330.7,65.1 329.2,65.1 329.2,59.5Z"/>
<path fill="#ff2b00" d="M330.7,59.5 480.7,59.5 480.7,63.6 330.7,64 329.2,64 329.2,59.5Z"/>
<path fill="#ff1600" d="M330.7,59.5 480.7,59.5 480.7,62.7 330.7,62.9 329.2,62.9 329.2,59.5Z"/>
<path fill="#ff0000" d="M330.7,59.5 480.7,59.5 480.7,61.7 330.7,61.8 329.2,61.8 329.2,59.5Z"/>
<path fill="none" stroke="#000" stroke-opacity=".28" stroke-width=".6" d="M480.7,117.6 447.1,119.3 393.4,120.9 386.7,121.9 383.5,122.9 378.9,124.9 374.8,127.5 371.8,130.4 369.6,133.8 367.8,138.3 366.9,142.8 366.7,152.8 366.7,205.2M480.7,104.7 474.5,104.9 451.1,106.7 426,108.3 365.8,111.2 359.8,111.8 356.8,112.5 353.8,113.6 351.8,114.9 350.7,115.9 349.8,117.3 349.1,118.9 348.8,120.9 348.6,205.2M480.7,99 420,100.2 396.9,100.9 377.9,101.7 362.8,102.7 348.8,104.2 345.8,105.1 343.7,106.1 341.9,107.9 340.8,109.9 340.2,111.9 339.7,115.9 339.6,205.2M480.7,87.9 418,89.1 344.9,89.9 339.7,90.5 338.7,90.9 337.7,91.7 337,92.9 336.9,93.9 337.2,95.9 335.9,99.9 334.5,106.9 334,112.9 333.8,205.2M480.7,84.2 329.2,84.8M480.7,71.7 417,72.7 329.2,73.5M480.7,66.5 329.2,67.2"/>
<path fill="#fff" fill-rule="evenodd" d="M326.7,57H483.2V207.7H326.7ZM330.7,61H479.2V203.7H330.7Z"/>
<path fill="none" stroke="#000" stroke-opacity=".35" stroke-width=".6" d="M330.7,61H479.2V203.7"/>
<path fill="none" stroke="#666" stroke-width=".7" d="M330.3,61 V204.1M330.3,204.1 H479.2M330.3,61.0 h-2.6M330.3,75.2 h-1.3M330.3,71.7 h-1.3M330.3,69.1 h-1.3M330.3,67.1 h-1.3M330.3,65.5 h-1.3M330.3,64.2 h-1.3M330.3,63.0 h-1.3M330.3,61.9 h-1.3M330.3,81.4 h-2.6M330.3,95.6 h-1.3M330.3,92.0 h-1.3M330.3,89.5 h-1.3M330.3,87.5 h-1.3M330.3,85.9 h-1.3M330.3,84.5 h-1.3M330.3,83.4 h-1.3M330.3,82.3 h-1.3M330.3,101.8 h-2.6M330.3,116.0 h-1.3M330.3,112.4 h-1.3M330.3,109.9 h-1.3M330.3,107.9 h-1.3M330.3,106.3 h-1.3M330.3,104.9 h-1.3M330.3,103.7 h-1.3M330.3,102.7 h-1.3M330.3,122.2 h-2.6M330.3,136.4 h-1.3M330.3,132.8 h-1.3M330.3,130.3 h-1.3M330.3,128.3 h-1.3M330.3,126.7 h-1.3M330.3,125.3 h-1.3M330.3,124.1 h-1.3M330.3,123.1 h-1.3M330.3,142.5 h-2.6M330.3,156.8 h-1.3M330.3,153.2 h-1.3M330.3,150.7 h-1.3M330.3,148.7 h-1.3M330.3,147.1 h-1.3M330.3,145.7 h-1.3M330.3,144.5 h-1.3M330.3,143.5 h-1.3M330.3,162.9 h-2.6M330.3,177.2 h-1.3M330.3,173.6 h-1.3M330.3,171.0 h-1.3M330.3,169.1 h-1.3M330.3,167.5 h-1.3M330.3,166.1 h-1.3M330.3,164.9 h-1.3M330.3,163.9 h-1.3M330.3,183.3 h-2.6M330.3,197.6 h-1.3M330.3,194.0 h-1.3M330.3,191.4 h-1.3M330.3,189.5 h-1.3M330.3,187.8 h-1.3M330.3,186.5 h-1.3M330.3,185.3 h-1.3M330.3,184.2 h-1.3M330.3,203.7 h-2.6M362.0,204.1 v2.6M401.0,204.1 v2.6M440.1,204.1 v2.6M479.2,204.1 v2.6M342.4,204.1 v1.4M381.5,204.1 v1.4M420.6,204.1 v1.4M459.7,204.1 v1.4"/>
<g class="tk"><text transform="translate(326.1,64.0) scale(.95,1)" text-anchor="end">1E19</text><text transform="translate(326.1,84.4) scale(.95,1)" text-anchor="end">1E18</text><text transform="translate(326.1,104.8) scale(.95,1)" text-anchor="end">1E17</text><text transform="translate(326.1,125.2) scale(.95,1)" text-anchor="end">1E16</text><text transform="translate(326.1,145.5) scale(.95,1)" text-anchor="end">1E15</text><text transform="translate(326.1,165.9) scale(.95,1)" text-anchor="end">1E14</text><text transform="translate(326.1,186.3) scale(.95,1)" text-anchor="end">1E13</text><text transform="translate(326.1,206.7) scale(.95,1)" text-anchor="end">1E12</text><text transform="translate(362.0,214.9) scale(.95,1)" text-anchor="middle">0.05</text><text transform="translate(401.0,214.9) scale(.95,1)" text-anchor="middle">0.10</text><text transform="translate(440.1,214.9) scale(.95,1)" text-anchor="middle">0.15</text><text transform="translate(479.2,214.9) scale(.95,1)" text-anchor="middle">0.20</text></g>
<text transform="translate(299.3,133.8) rotate(-90)" text-anchor="middle" font-size="8.45">Carrier concentration (cm<tspan font-size="5.5" dy="-3.4">-3</tspan><tspan dy="3.4">)</tspan></text>
<text x="405" y="229.4" text-anchor="middle" font-size="8.45">Layer thickness (&#956;m)</text>
<text x="413.3" y="51.7" text-anchor="middle" font-size="14.2">(b)</text>
<g class="tk" text-anchor="middle" opacity=".88" style="font-size:8.3px"><text transform="translate(395.2,68.9) scale(1,1)">0.8475</text><text transform="translate(369,75) scale(1,1)">0.8230</text><text transform="translate(371.7,86) scale(1,1)">0.7985</text><text transform="translate(349.8,99) scale(1,1)">0.7740</text><text transform="translate(345.1,122.7) scale(1,1)">0.7495</text><text transform="translate(378.8,130.4) scale(1,1)">0.7005</text><text transform="translate(425.2,109.9) scale(1,1)">0.7250</text><text transform="translate(442.6,165.6) scale(1,1)">0.6801</text></g>
<rect x="503.3" y="200.73" width="10.5" height="2.97" fill="#0000ff"/>
<rect x="503.3" y="197.75" width="10.5" height="3.27" fill="#0016ff"/>
<rect x="503.3" y="194.78" width="10.5" height="3.27" fill="#002bff"/>
<rect x="503.3" y="191.81" width="10.5" height="3.27" fill="#0041ff"/>
<rect x="503.3" y="188.84" width="10.5" height="3.27" fill="#0057ff"/>
<rect x="503.3" y="185.86" width="10.5" height="3.27" fill="#006dff"/>
<rect x="503.3" y="182.89" width="10.5" height="3.27" fill="#0082ff"/>
<rect x="503.3" y="179.92" width="10.5" height="3.27" fill="#0098ff"/>
<rect x="503.3" y="176.94" width="10.5" height="3.27" fill="#00aeff"/>
<rect x="503.3" y="173.97" width="10.5" height="3.27" fill="#00c3ff"/>
<rect x="503.3" y="171.00" width="10.5" height="3.27" fill="#00d9ff"/>
<rect x="503.3" y="168.02" width="10.5" height="3.27" fill="#00efff"/>
<rect x="503.3" y="165.05" width="10.5" height="3.27" fill="#00fffa"/>
<rect x="503.3" y="162.08" width="10.5" height="3.27" fill="#00ffe4"/>
<rect x="503.3" y="159.11" width="10.5" height="3.27" fill="#00ffce"/>
<rect x="503.3" y="156.13" width="10.5" height="3.27" fill="#00ffb8"/>
<rect x="503.3" y="153.16" width="10.5" height="3.27" fill="#00ffa3"/>
<rect x="503.3" y="150.19" width="10.5" height="3.27" fill="#00ff8d"/>
<rect x="503.3" y="147.21" width="10.5" height="3.27" fill="#00ff77"/>
<rect x="503.3" y="144.24" width="10.5" height="3.27" fill="#00ff62"/>
<rect x="503.3" y="141.27" width="10.5" height="3.27" fill="#00ff4c"/>
<rect x="503.3" y="138.30" width="10.5" height="3.27" fill="#00ff36"/>
<rect x="503.3" y="135.32" width="10.5" height="3.27" fill="#00ff21"/>
<rect x="503.3" y="132.35" width="10.5" height="3.27" fill="#00ff0b"/>
<rect x="503.3" y="129.38" width="10.5" height="3.27" fill="#00ff00"/>
<rect x="503.3" y="126.40" width="10.5" height="3.27" fill="#00ff00"/>
<rect x="503.3" y="123.43" width="10.5" height="3.27" fill="#00ff00"/>
<rect x="503.3" y="120.46" width="10.5" height="3.27" fill="#00ff00"/>
<rect x="503.3" y="117.49" width="10.5" height="3.27" fill="#00ff00"/>
<rect x="503.3" y="114.51" width="10.5" height="3.27" fill="#00ff00"/>
<rect x="503.3" y="111.54" width="10.5" height="3.27" fill="#00ff00"/>
<rect x="503.3" y="108.57" width="10.5" height="3.27" fill="#a3ff00"/>
<rect x="503.3" y="105.59" width="10.5" height="3.27" fill="#b8ff00"/>
<rect x="503.3" y="102.62" width="10.5" height="3.27" fill="#ceff00"/>
<rect x="503.3" y="99.65" width="10.5" height="3.27" fill="#e4ff00"/>
<rect x="503.3" y="96.67" width="10.5" height="3.27" fill="#faff00"/>
<rect x="503.3" y="93.70" width="10.5" height="3.27" fill="#ffef00"/>
<rect x="503.3" y="90.73" width="10.5" height="3.27" fill="#ffd900"/>
<rect x="503.3" y="87.76" width="10.5" height="3.27" fill="#ffc300"/>
<rect x="503.3" y="84.78" width="10.5" height="3.27" fill="#ffae00"/>
<rect x="503.3" y="81.81" width="10.5" height="3.27" fill="#ff9800"/>
<rect x="503.3" y="78.84" width="10.5" height="3.27" fill="#ff8200"/>
<rect x="503.3" y="75.86" width="10.5" height="3.27" fill="#ff6d00"/>
<rect x="503.3" y="72.89" width="10.5" height="3.27" fill="#ff5700"/>
<rect x="503.3" y="69.92" width="10.5" height="3.27" fill="#ff4100"/>
<rect x="503.3" y="66.95" width="10.5" height="3.27" fill="#ff2b00"/>
<rect x="503.3" y="63.97" width="10.5" height="3.27" fill="#ff1600"/>
<rect x="503.3" y="61.00" width="10.5" height="3.27" fill="#ff0000"/>
<line x1="513.8" x2="516" y1="203.7" y2="203.7" stroke="#667" stroke-width=".7"/>
<line x1="513.8" x2="516" y1="185.9" y2="185.9" stroke="#667" stroke-width=".7"/>
<line x1="513.8" x2="516" y1="168.0" y2="168.0" stroke="#667" stroke-width=".7"/>
<line x1="513.8" x2="516" y1="150.2" y2="150.2" stroke="#667" stroke-width=".7"/>
<line x1="513.8" x2="516" y1="132.3" y2="132.3" stroke="#667" stroke-width=".7"/>
<line x1="513.8" x2="516" y1="114.5" y2="114.5" stroke="#667" stroke-width=".7"/>
<line x1="513.8" x2="516" y1="96.7" y2="96.7" stroke="#667" stroke-width=".7"/>
<line x1="513.8" x2="516" y1="78.8" y2="78.8" stroke="#667" stroke-width=".7"/>
<line x1="513.8" x2="516" y1="61.0" y2="61.0" stroke="#667" stroke-width=".7"/>
<g class="tk" style="font-size:8.35px"><text transform="translate(518.8,206.7) scale(1,1)">0.6760</text><text transform="translate(518.8,188.9) scale(1,1)">0.7005</text><text transform="translate(518.8,171.0) scale(1,1)">0.7250</text><text transform="translate(518.8,153.2) scale(1,1)">0.7495</text><text transform="translate(518.8,135.3) scale(1,1)">0.7740</text><text transform="translate(518.8,117.5) scale(1,1)">0.7985</text><text transform="translate(518.8,99.7) scale(1,1)">0.8230</text><text transform="translate(518.8,81.8) scale(1,1)">0.8475</text><text transform="translate(518.8,64.0) scale(1,1)">0.8720</text></g>
<text x="501.8" y="50" font-size="8.5">V<tspan font-size="5.8" dy="2.4">OC</tspan><tspan dy="-2.4"> (V)</tspan></text></g>
<g><rect x="45.1" y="256.8" width="152" height="145.7" fill="#ff0000"/>
<path fill="#ff1600" d="M75,256.8 75,258.3 73,279.9 68,299.8 65.5,320.2 65,401 65,402.5 197.1,402.5 197.1,256.8Z"/>
<path fill="#ff2b00" d="M80,256.8 80,258.3 79.5,280.1 80.2,299.4 88.4,324.8 89.8,344.1 90.3,401 90.3,402.5 197.1,402.5 197.1,256.8Z"/>
<path fill="#ff4100" d="M85,256.8 85,258.3 85.5,280.3 87.7,299.5 96.9,316.6 97.6,317.6 110.2,328.7 111,329.7 119.4,344.3 119.8,345.4 120,401 120,402.5 197.1,402.5 197.1,256.8Z"/>
<path fill="#ff5700" d="M89.5,256.8 89.5,258.3 91,279.8 94.6,299.6 104.2,312.2 105.2,313.2 121.5,324.9 133.9,332.3 143.5,335.5 144.6,336.3 149.1,343.6 149.4,344.9 149.4,401 149.4,402.5 197.1,402.5 197.1,256.8Z"/>
<path fill="#ff6d00" d="M93,256.8 93,258.3 95.1,280.3 98.7,295.7 99.1,297.2 106.6,307.4 107.7,308.5 121.7,318.8 130.2,325.8 131.5,326.6 145.4,329.9 157.8,332.1 167.7,337 168.9,337.9 175,349 175.6,350.4 175.6,401 175.6,402.5 197.1,402.5 197.1,256.8Z"/>
<path fill="#ff8200" d="M96.5,256.8 96.5,258.3 99.1,278.5 102.9,292.4 103.4,293.5 110.4,303.2 121.8,313.9 129.9,321 145,325.1 159.9,329.5 177.4,333.9 195.6,340 197.1,340 197.1,256.8Z"/>
<path fill="#ff9800" d="M99,256.8 99,258.3 101.4,278.1 105.1,291.7 105.6,292.8 112.1,302.5 122.8,311.4 131.8,318.8 155,326.5 160.7,328.2 177.7,332.6 195.6,338.2 197.1,338.2 197.1,256.8Z"/>
<path fill="#ffae00" d="M101.4,256.8 101.4,258.3 103.7,277.7 107.4,291 109,294 113.7,301.7 127.4,311.5 133.7,316.6 155.9,325.3 161.4,326.9 178,331.4 195.6,336.4 197.1,336.4 197.1,256.8Z"/>
<path fill="#ffc300" d="M103.9,256.8 103.9,258.3 106.1,277.3 109.7,290.2 111.1,293.2 115.3,301 129.4,309.5 135.6,314.3 155.6,323.6 162.1,325.6 181.5,331.2 195.6,334.6 197.1,334.6 197.1,256.8Z"/>
<path fill="#ffd900" d="M106.4,256.8 106.4,258.3 108.4,276.8 112.4,290.5 116.4,299.4 117,300.3 131.3,307.5 137.4,312.1 156.5,322.4 180.7,329.6 195.6,332.8 197.1,332.8 197.1,256.8Z"/>
<path fill="#ffef00" d="M108.8,256.8 108.8,258.3 110.7,276.4 114.7,289.7 118.1,298.7 118.6,299.6 133.2,305.5 139.3,309.9 157.4,321.1 180.9,328.4 195.6,331 197.1,331 197.1,256.8Z"/>
<path fill="#faff00" d="M111.3,256.8 111.3,258.3 113,276 117.5,291 119.8,298 120.2,298.8 135.2,303.6 145.5,310.7 158.2,319.8 181.1,327.1 195.6,329.3 197.1,329.3 197.1,256.8Z"/>
<path fill="#e4ff00" d="M114,256.8 114,258.3 115.5,275.7 117.3,282.6 119.6,290.5 121.8,297.3 122.2,298.2 127.4,300.6 136.2,303.4 143.1,307.8 159,319.1 159.9,319.5 166.6,321.9 181.4,326.3 195.6,328.3 197.1,328.3 197.1,256.8Z"/>
<path fill="#ceff00" d="M116.6,256.8 116.6,258.3 118,275.4 119.7,283.2 122,290.9 124.1,297.6 127.8,300.1 128.6,300.5 137.2,303.3 144.2,307.3 159.8,318.4 166.2,321.1 177.7,324.6 181.6,325.5 195.6,327.3 197.1,327.3 197.1,256.8Z"/>
<path fill="#b8ff00" d="M119.3,256.8 119.3,258.3 120.5,275 121.9,282.7 126,296.9 129.1,300 129.8,300.4 138.3,303.2 144.4,306.3 160.5,317.6 167.6,321 178,323.9 181.9,324.7 195.6,326.4 197.1,326.4 197.1,256.8Z"/>
<path fill="#a3ff00" d="M122,256.8 122,258.3 123,274.7 123.9,281.4 127.9,296.3 130.3,299.8 131,300.3 139.3,303.1 145.4,305.8 161.3,316.9 168.1,320.5 178.3,323.3 183.1,324 195.6,325.4 197.1,325.4 197.1,256.8Z"/>
<path fill="#00ff00" d="M124.7,256.8 124.7,258.3 125.5,274.4 126.1,281 129.9,295.7 131.6,299.7 132.3,300.2 140.4,302.9 147.3,305.8 162.1,316.1 168.5,320 178.6,322.6 195.6,324.4 197.1,324.4 197.1,256.8Z"/>
<path fill="#00ff00" d="M127.3,256.8 127.3,258.3 128.3,280.6 132.9,299.5 133.5,300.1 147.6,304.8 148.4,305.3 168.2,319.1 169,319.6 178.9,322 195.6,323.5 197.1,323.5 197.1,256.8Z"/>
<path fill="#00ff00" d="M129.7,256.8 129.7,258.3 131,280.9 135.5,298.4 136,299 139.1,300.5 149.3,304.1 150.1,304.5 156,308.6 163.8,314.6 169.8,318.7 179.4,321.1 195.6,322.7 197.1,322.7 197.1,256.8Z"/>
<path fill="#00ff00" d="M132.2,256.8 132.2,258.3 133.6,280.2 138.1,297.2 138.5,297.8 141.2,299.6 146.9,301.7 151.7,303.7 157.6,307.6 164.8,313.8 170.6,317.9 172.2,318.5 179.9,320.3 195.6,321.8 197.1,321.8 197.1,256.8Z"/>
<path fill="#00ff00" d="M134.6,256.8 134.6,258.3 136.1,279.6 136.5,281.2 140.7,296 141,296.7 143.2,298.7 152.6,302.6 158.4,306.1 165.8,313 170.6,316.6 172.9,317.7 181.2,319.5 184.6,320 195.6,321 197.1,321 197.1,256.8Z"/>
<path fill="#00ff00" d="M137,256.8 137,258.3 138.8,279.7 143.2,294.8 143.6,295.5 145.3,297.9 146,298.3 150.6,300 154.3,301.8 160,305.2 160.6,305.7 166.8,312.3 171.4,315.7 173.5,316.9 180.8,318.6 184.1,319.1 195.6,320.2 197.1,320.2 197.1,256.8Z"/>
<path fill="#00ff00" d="M139.4,256.8 139.4,258.3 141.3,279.1 145,290.5 145.8,293.6 147.4,297 148,297.4 152.5,299.2 156.7,301.4 161.6,304.2 162.2,304.7 167.7,311.5 174.2,316.2 184.4,318.3 195.6,319.3 197.1,319.3 197.1,256.8Z"/>
<path fill="#00ff0b" d="M141.8,256.8 141.8,258.3 143.9,278.4 147.6,289.4 149.4,296.2 150,296.6 154.3,298.4 163.1,303.3 163.7,303.8 168.7,310.7 174.9,315.4 184.8,317.5 195.6,318.5 197.1,318.5 197.1,256.8Z"/>
<path fill="#00ff21" d="M143.9,256.8 143.9,258.3 145.9,277.7 149.3,288.5 151,295 151.5,295.5 155.5,297.4 163.8,302.4 164.4,302.8 169.6,309 175.7,313.3 185.2,315.6 195.6,316.9 197.1,316.9 197.1,256.8Z"/>
<path fill="#00ff36" d="M146.1,256.8 146.1,258.3 148.1,277.8 151,287.5 152.6,293.8 153,294.3 154.1,295.1 156.6,296.4 164.6,301.4 170.5,307.4 176.6,311.3 185.6,313.8 195.6,315.3 197.1,315.3 197.1,256.8Z"/>
<path fill="#00ff4c" d="M148.2,256.8 148.2,258.3 150.1,277.1 152.7,286.5 154.2,292.6 154.6,293.2 155.4,294.1 157.8,295.5 165.3,300.5 166.8,302 171.4,305.7 177.4,309.2 184.7,311.6 195.6,313.8 197.1,313.8 197.1,256.8Z"/>
<path fill="#00ff62" d="M150.4,256.8 150.4,258.3 152.1,276.4 155.8,291.5 156.7,293 166,299.6 167.5,300.9 172.4,304.1 178.3,307.1 185.1,309.8 195.6,312.2 197.1,312.2 197.1,256.8Z"/>
<path fill="#00ff77" d="M152.5,256.8 152.5,258.3 154.3,276.4 157.4,290.3 158,292 168.2,299.9 173.3,302.4 178,304.4 185.6,307.9 195.6,310.6 197.1,310.6 197.1,256.8Z"/>
<path fill="#00ff8d" d="M154.7,256.8 154.7,258.3 156.3,275.7 159.4,290.9 168.9,298.9 178.9,302.4 186.1,306.1 195.6,309 197.1,309 197.1,256.8Z"/>
<path fill="#00ffa3" d="M156.8,256.8 156.8,258.3 158.4,275 161.3,289.7 162.9,291.3 168.3,296.1 170.2,297.5 179.7,301 186.6,304.6 195.6,307.8 197.1,307.8 197.1,256.8Z"/>
<path fill="#00ffb8" d="M159,256.8 159,258.3 160.5,274.3 161.4,279.4 163.2,288.4 163.6,288.9 164.6,290.1 169.6,294.9 171.4,296.2 176.9,298 180.6,299.6 187.2,303.1 195.6,306.5 197.1,306.5 197.1,256.8Z"/>
<path fill="#00ffce" d="M161.2,256.8 161.2,258.3 162.6,273.7 163.2,278 165.2,287.2 166,288.5 170.9,293.6 172.2,294.5 177.9,296.6 181.4,298.1 187.7,301.6 195.6,305.2 197.1,305.2 197.1,256.8Z"/>
<path fill="#00ffe4" d="M163.4,256.8 163.4,258.3 164.7,273 165.2,277.2 167.1,285.9 167.8,287.3 172.6,292.7 174,293.4 179,295.1 182.3,296.7 195.6,304 197.1,304 197.1,256.8Z"/>
<path fill="#00fffa" d="M165.6,256.8 165.6,258.3 167.2,276.3 169.1,284.7 169.8,286.4 173.9,291.5 180.5,293.9 189.7,299 195.6,302.7 197.1,302.7 197.1,256.8Z"/>
<path fill="#00efff" d="M167.8,256.8 167.8,258.3 169.3,275.5 171.3,284.8 171.6,285.2 175.2,290.2 181.1,292.2 190.2,297.6 195.6,301.5 197.1,301.5 197.1,256.8Z"/>
<path fill="#00d9ff" d="M169.4,256.8 169.4,258.3 171.6,274.6 174,283.9 177.4,288.8 182.5,291.3 190.3,296.7 195.6,301 197.1,301 197.1,256.8Z"/>
<path fill="#00c3ff" d="M171,256.8 171,258.3 173.9,273.8 176.5,282.7 179.5,287.5 184,290.3 190.8,296.1 195.6,300.5 197.1,300.5 197.1,256.8Z"/>
<path fill="#00aeff" d="M172.6,256.8 172.6,258.3 176.2,272.9 178.9,281.4 181.6,286.1 185.5,289.4 195.6,300 197.1,300 197.1,256.8Z"/>
<path fill="#0098ff" d="M174.3,256.8 174.3,258.3 178.5,272.1 181.2,279.7 183.6,284.4 186.9,288.4 192.8,296.1 195.6,299.5 197.1,299.5 197.1,256.8Z"/>
<path fill="#0082ff" d="M175.9,256.8 175.9,258.3 178.1,264.5 183.7,278.5 185.7,283 193.1,295.6 195.6,299 197.1,299 197.1,256.8Z"/>
<path fill="#006dff" d="M177.5,256.8 177.5,258.3 180.1,264.1 182.4,268.7 186,276.9 190,286.8 193.5,295 195.6,298.5 197.1,298.5 197.1,256.8Z"/>
<path fill="#0057ff" d="M180.1,256.8 180.1,258.3 185.8,271.9 193.9,293.5 195.6,296.9 197.1,296.9 197.1,256.8Z"/>
<path fill="#0041ff" d="M182.8,256.8 182.8,258.3 187.5,271.3 194.2,291.9 195.6,295.2 197.1,295.2 197.1,256.8Z"/>
<path fill="#002bff" d="M185.4,256.8 185.4,258.3 189.3,270.7 194.6,290.4 195.6,293.6 197.1,293.6 197.1,256.8Z"/>
<path fill="#0016ff" d="M188,256.8 188,258.3 191,270.1 195.6,292 197.1,292 197.1,256.8Z"/>
<path fill="none" stroke="#000" stroke-opacity=".28" stroke-width=".6" d="M177.5,258.3 180.1,264.1 182.4,268.7 186,276.9 190,286.8 193.5,295 195.6,298.5M167.8,258.3 169.3,275.5 171.3,284.8 171.6,285.2 175.2,290.2 181.1,292.2 190.2,297.6 195.6,301.5M154.7,258.3 156.3,275.7 159.4,290.9 168.9,298.9 178.9,302.4 186.1,306.1 195.6,309M141.8,258.3 143.9,278.4 147.6,289.4 149.4,296.2 150,296.6 154.3,298.4 163.1,303.3 163.7,303.8 168.7,310.7 174.9,315.4 184.8,317.5 195.6,318.5M127.3,258.3 128.3,280.6 132.9,299.5 133.5,300.1 147.6,304.8 148.4,305.3 168.2,319.1 169,319.6 178.9,322 195.6,323.5M111.3,258.3 113,276 117.5,291 119.8,298 120.2,298.8 135.2,303.6 145.5,310.7 158.2,319.8 181.1,327.1 195.6,329.3M96.5,258.3 99.1,278.5 102.9,292.4 103.4,293.5 110.4,303.2 121.8,313.9 129.9,321 145,325.1 159.9,329.5 177.4,333.9 195.6,340"/>
<path fill="#fff" fill-rule="evenodd" d="M42.6,254.3H199.6V405H42.6ZM46.6,258.3H195.6V401H46.6Z"/>
<path fill="none" stroke="#000" stroke-opacity=".35" stroke-width=".6" d="M46.6,258.3H195.6V401"/>
<path fill="none" stroke="#666" stroke-width=".7" d="M46.2,258.3 V401.4M46.2,401.4 H195.6M46.2,258.3 h-2.6M46.2,272.5 h-1.3M46.2,269.0 h-1.3M46.2,266.4 h-1.3M46.2,264.4 h-1.3M46.2,262.8 h-1.3M46.2,261.5 h-1.3M46.2,260.3 h-1.3M46.2,259.2 h-1.3M46.2,278.7 h-2.6M46.2,292.9 h-1.3M46.2,289.3 h-1.3M46.2,286.8 h-1.3M46.2,284.8 h-1.3M46.2,283.2 h-1.3M46.2,281.8 h-1.3M46.2,280.7 h-1.3M46.2,279.6 h-1.3M46.2,299.1 h-2.6M46.2,313.3 h-1.3M46.2,309.7 h-1.3M46.2,307.2 h-1.3M46.2,305.2 h-1.3M46.2,303.6 h-1.3M46.2,302.2 h-1.3M46.2,301.0 h-1.3M46.2,300.0 h-1.3M46.2,319.5 h-2.6M46.2,333.7 h-1.3M46.2,330.1 h-1.3M46.2,327.6 h-1.3M46.2,325.6 h-1.3M46.2,324.0 h-1.3M46.2,322.6 h-1.3M46.2,321.4 h-1.3M46.2,320.4 h-1.3M46.2,339.8 h-2.6M46.2,354.1 h-1.3M46.2,350.5 h-1.3M46.2,348.0 h-1.3M46.2,346.0 h-1.3M46.2,344.4 h-1.3M46.2,343.0 h-1.3M46.2,341.8 h-1.3M46.2,340.8 h-1.3M46.2,360.2 h-2.6M46.2,374.5 h-1.3M46.2,370.9 h-1.3M46.2,368.3 h-1.3M46.2,366.4 h-1.3M46.2,364.8 h-1.3M46.2,363.4 h-1.3M46.2,362.2 h-1.3M46.2,361.2 h-1.3M46.2,380.6 h-2.6M46.2,394.9 h-1.3M46.2,391.3 h-1.3M46.2,388.7 h-1.3M46.2,386.8 h-1.3M46.2,385.1 h-1.3M46.2,383.8 h-1.3M46.2,382.6 h-1.3M46.2,381.5 h-1.3M46.2,401.0 h-2.6M78.0,401.4 v2.6M117.2,401.4 v2.6M156.4,401.4 v2.6M195.6,401.4 v2.6M58.4,401.4 v1.4M97.6,401.4 v1.4M136.8,401.4 v1.4M176.0,401.4 v1.4"/>
<g class="tk"><text transform="translate(42,261.3) scale(.95,1)" text-anchor="end">1E19</text><text transform="translate(42,281.7) scale(.95,1)" text-anchor="end">1E18</text><text transform="translate(42,302.1) scale(.95,1)" text-anchor="end">1E17</text><text transform="translate(42,322.5) scale(.95,1)" text-anchor="end">1E16</text><text transform="translate(42,342.8) scale(.95,1)" text-anchor="end">1E15</text><text transform="translate(42,363.2) scale(.95,1)" text-anchor="end">1E14</text><text transform="translate(42,383.6) scale(.95,1)" text-anchor="end">1E13</text><text transform="translate(42,404.0) scale(.95,1)" text-anchor="end">1E12</text><text transform="translate(78.0,412.2) scale(.95,1)" text-anchor="middle">0.05</text><text transform="translate(117.2,412.2) scale(.95,1)" text-anchor="middle">0.10</text><text transform="translate(156.4,412.2) scale(.95,1)" text-anchor="middle">0.15</text><text transform="translate(195.6,412.2) scale(.95,1)" text-anchor="middle">0.20</text></g>
<text transform="translate(15.6,329.6) rotate(-90)" text-anchor="middle" font-size="9.7">Carrier concentration (cm<tspan font-size="6.3" dy="-3.9">-3</tspan><tspan dy="3.9">)</tspan></text>
<text x="121.3" y="427.6" text-anchor="middle" font-size="9.7">Layer thickness (&#956;m)</text>
<text x="128.9" y="250.7" text-anchor="middle" font-size="14.2">(c)</text>
<g class="tk" text-anchor="middle" opacity=".88" style="font-size:8.6px"><text transform="translate(93.8,280.8) scale(1,1)">26.90</text><text transform="translate(66.7,321.9) scale(1,1)">27.68</text><text transform="translate(126.3,287.4) scale(1,1)">25.03</text><text transform="translate(157.3,282.3) scale(1,1)">23.15</text><text transform="translate(182.7,271.9) scale(1,1)">21.28</text><text transform="translate(181.4,295.1) scale(1,1)">22.22</text><text transform="translate(149.4,300.9) scale(1,1)">24.09</text><text transform="translate(182.2,329.9) scale(1,1)">25.97</text><text transform="translate(150.8,362.9) scale(1,1)">27.22</text></g>
<rect x="219.4" y="398.03" width="10.4" height="2.97" fill="#0000ff"/>
<rect x="219.4" y="395.05" width="10.4" height="3.27" fill="#0016ff"/>
<rect x="219.4" y="392.08" width="10.4" height="3.27" fill="#002bff"/>
<rect x="219.4" y="389.11" width="10.4" height="3.27" fill="#0041ff"/>
<rect x="219.4" y="386.14" width="10.4" height="3.27" fill="#0057ff"/>
<rect x="219.4" y="383.16" width="10.4" height="3.27" fill="#006dff"/>
<rect x="219.4" y="380.19" width="10.4" height="3.27" fill="#0082ff"/>
<rect x="219.4" y="377.22" width="10.4" height="3.27" fill="#0098ff"/>
<rect x="219.4" y="374.24" width="10.4" height="3.27" fill="#00aeff"/>
<rect x="219.4" y="371.27" width="10.4" height="3.27" fill="#00c3ff"/>
<rect x="219.4" y="368.30" width="10.4" height="3.27" fill="#00d9ff"/>
<rect x="219.4" y="365.32" width="10.4" height="3.27" fill="#00efff"/>
<rect x="219.4" y="362.35" width="10.4" height="3.27" fill="#00fffa"/>
<rect x="219.4" y="359.38" width="10.4" height="3.27" fill="#00ffe4"/>
<rect x="219.4" y="356.41" width="10.4" height="3.27" fill="#00ffce"/>
<rect x="219.4" y="353.43" width="10.4" height="3.27" fill="#00ffb8"/>
<rect x="219.4" y="350.46" width="10.4" height="3.27" fill="#00ffa3"/>
<rect x="219.4" y="347.49" width="10.4" height="3.27" fill="#00ff8d"/>
<rect x="219.4" y="344.51" width="10.4" height="3.27" fill="#00ff77"/>
<rect x="219.4" y="341.54" width="10.4" height="3.27" fill="#00ff62"/>
<rect x="219.4" y="338.57" width="10.4" height="3.27" fill="#00ff4c"/>
<rect x="219.4" y="335.60" width="10.4" height="3.27" fill="#00ff36"/>
<rect x="219.4" y="332.62" width="10.4" height="3.27" fill="#00ff21"/>
<rect x="219.4" y="329.65" width="10.4" height="3.27" fill="#00ff0b"/>
<rect x="219.4" y="326.68" width="10.4" height="3.27" fill="#00ff00"/>
<rect x="219.4" y="323.70" width="10.4" height="3.27" fill="#00ff00"/>
<rect x="219.4" y="320.73" width="10.4" height="3.27" fill="#00ff00"/>
<rect x="219.4" y="317.76" width="10.4" height="3.27" fill="#00ff00"/>
<rect x="219.4" y="314.79" width="10.4" height="3.27" fill="#00ff00"/>
<rect x="219.4" y="311.81" width="10.4" height="3.27" fill="#00ff00"/>
<rect x="219.4" y="308.84" width="10.4" height="3.27" fill="#00ff00"/>
<rect x="219.4" y="305.87" width="10.4" height="3.27" fill="#a3ff00"/>
<rect x="219.4" y="302.89" width="10.4" height="3.27" fill="#b8ff00"/>
<rect x="219.4" y="299.92" width="10.4" height="3.27" fill="#ceff00"/>
<rect x="219.4" y="296.95" width="10.4" height="3.27" fill="#e4ff00"/>
<rect x="219.4" y="293.98" width="10.4" height="3.27" fill="#faff00"/>
<rect x="219.4" y="291.00" width="10.4" height="3.27" fill="#ffef00"/>
<rect x="219.4" y="288.03" width="10.4" height="3.27" fill="#ffd900"/>
<rect x="219.4" y="285.06" width="10.4" height="3.27" fill="#ffc300"/>
<rect x="219.4" y="282.08" width="10.4" height="3.27" fill="#ffae00"/>
<rect x="219.4" y="279.11" width="10.4" height="3.27" fill="#ff9800"/>
<rect x="219.4" y="276.14" width="10.4" height="3.27" fill="#ff8200"/>
<rect x="219.4" y="273.16" width="10.4" height="3.27" fill="#ff6d00"/>
<rect x="219.4" y="270.19" width="10.4" height="3.27" fill="#ff5700"/>
<rect x="219.4" y="267.22" width="10.4" height="3.27" fill="#ff4100"/>
<rect x="219.4" y="264.25" width="10.4" height="3.27" fill="#ff2b00"/>
<rect x="219.4" y="261.27" width="10.4" height="3.27" fill="#ff1600"/>
<rect x="219.4" y="258.30" width="10.4" height="3.27" fill="#ff0000"/>
<line x1="229.8" x2="232" y1="401.0" y2="401.0" stroke="#667" stroke-width=".7"/>
<line x1="229.8" x2="232" y1="383.2" y2="383.2" stroke="#667" stroke-width=".7"/>
<line x1="229.8" x2="232" y1="365.3" y2="365.3" stroke="#667" stroke-width=".7"/>
<line x1="229.8" x2="232" y1="347.5" y2="347.5" stroke="#667" stroke-width=".7"/>
<line x1="229.8" x2="232" y1="329.6" y2="329.6" stroke="#667" stroke-width=".7"/>
<line x1="229.8" x2="232" y1="311.8" y2="311.8" stroke="#667" stroke-width=".7"/>
<line x1="229.8" x2="232" y1="294.0" y2="294.0" stroke="#667" stroke-width=".7"/>
<line x1="229.8" x2="232" y1="276.1" y2="276.1" stroke="#667" stroke-width=".7"/>
<line x1="229.8" x2="232" y1="258.3" y2="258.3" stroke="#667" stroke-width=".7"/>
<g class="tk" style="font-size:8.6px"><text transform="translate(234.9,404.1) scale(1,1)">20.34</text><text transform="translate(234.9,386.2) scale(1,1)">21.28</text><text transform="translate(234.9,368.4) scale(1,1)">22.22</text><text transform="translate(234.9,350.6) scale(1,1)">23.15</text><text transform="translate(234.9,332.7) scale(1,1)">24.09</text><text transform="translate(234.9,314.9) scale(1,1)">25.03</text><text transform="translate(234.9,297.1) scale(1,1)">25.97</text><text transform="translate(234.9,279.2) scale(1,1)">26.90</text><text transform="translate(234.9,261.4) scale(1,1)">27.84</text></g>
<text x="207.1" y="247.3" font-size="8.4">J<tspan font-size="5.8" dy="2.3">SC</tspan><tspan dy="-2.3"> (mA/cm</tspan><tspan font-size="5.8" dy="-3.2">2</tspan><tspan dy="3.2">)</tspan></text></g>
<g><rect x="329.2" y="256.8" width="151.9" height="145.7" fill="#ff0000"/>
<path fill="#ff1600" d="M330.7,402.5 330.7,401 330.7,267.4 331.7,266 396.1,263.5 479.6,261 481.1,261 481.1,402.5Z"/>
<path fill="#ff2b00" d="M330.7,402.5 330.7,401 330.7,277.4 331.2,275.6 333.5,273.1 335.1,272.3 479.6,266.5 481.1,266.5 481.1,402.5Z"/>
<path fill="#ff4100" d="M330.7,402.5 330.7,401 330.7,280.3 331.7,279 370.4,277.5 479.6,272 481.1,272 481.1,402.5Z"/>
<path fill="#ff5700" d="M332.1,402.5 332.1,401 332.1,316.6 332.4,296.7 332.8,292.3 334.3,283.8 335.5,282.5 342.1,282 426.4,278.5 479.6,276 481.1,276 481.1,402.5Z"/>
<path fill="#ff6d00" d="M333.4,402.5 333.4,401 333.4,338.3 333.6,318.8 333.9,303.7 334.4,297.2 335,295.2 336.3,291.2 337.9,287.4 339.2,286 341.3,285.6 343.4,285.4 354.2,284.9 436.4,281.9 479.6,280 481.1,280 481.1,402.5Z"/>
<path fill="#ff8200" d="M334.8,402.5 334.8,401 334.8,339.9 335,321 335.5,306.3 336.2,300 338,296.2 340.2,292.6 341.4,290.9 343,289.5 344.9,288.9 347,288.7 357.5,288.1 397.5,286.8 437.5,285.6 479.6,284 481.1,284 481.1,402.5Z"/>
<path fill="#ff9800" d="M337.4,402.5 337.4,401 337.4,341.5 337.6,329.2 337.7,323 338.6,310.8 339.4,304.8 339.8,302.8 341.7,299.1 343.8,295.6 345.1,294 346.5,292.6 348.4,292 352.5,291.4 364.8,290.6 397.6,289.4 446.8,287.8 479.6,286.5 481.1,286.5 481.1,402.5Z"/>
<path fill="#ffae00" d="M340,402.5 340,401 340,343 340.3,325 341.9,313.3 342.9,307.5 343.4,305.6 345.3,302.1 347.5,298.7 348.7,297.1 350.1,295.8 352,295.1 355.8,294.3 367.8,293.3 389.7,292.4 447.6,290.3 479.6,288.9 481.1,288.9 481.1,402.5Z"/>
<path fill="#ffc300" d="M342.6,402.5 342.6,401 342.6,344.6 343,327.1 345.1,315.8 346.5,310.2 347.1,308.4 350,303.3 352.3,300.2 353.7,298.9 355.5,298.1 359.2,297.2 364.9,296.5 370.8,296 394.1,294.9 479.6,291.4 481.1,291.4 481.1,402.5Z"/>
<path fill="#ffd900" d="M345.2,402.5 345.2,401 345.3,346.1 345.4,334.8 345.6,329.1 348.9,316.4 350.7,311.2 353.6,306.3 356,303.4 357.3,302.1 359,301.2 362.5,300 368.1,299.2 373.8,298.7 404,297.1 479.6,293.8 481.1,293.8 481.1,402.5Z"/>
<path fill="#ffef00" d="M347.8,402.5 347.8,401 347.9,345.8 348,336.6 348.3,331.1 352.2,319 354.3,314 357.2,309.3 359.6,306.5 360.9,305.2 362.5,304.3 365.8,302.9 371.3,302 376.8,301.4 406.1,299.7 479.6,296.3 481.1,296.3 481.1,402.5Z"/>
<path fill="#faff00" d="M350.4,402.5 350.4,401 350.5,347.4 350.6,338.5 351,333.2 354.8,323.2 357.1,318.3 358.8,315.2 360.9,312.3 363.2,309.6 364.5,308.4 367.5,306.5 369.2,305.8 374.4,304.8 379.8,304.1 408.3,302.3 479.6,298.7 481.1,298.7 481.1,402.5Z"/>
<path fill="#e4ff00" d="M353,402.5 353,401 353.5,348.5 353.7,339.8 354,334.5 356.2,327.9 358.3,323.1 359.9,320 361.7,316.9 363.7,314.1 366,311.5 367.3,310.3 370.2,308.4 371.8,307.6 375.1,306.7 381.9,305.3 392.2,304 404.4,303 421.9,301.9 479.6,299.1 481.1,299.1 481.1,402.5Z"/>
<path fill="#ceff00" d="M355.7,402.5 355.7,401 356.4,354.7 356.8,341 357.1,335.9 359,329.3 361.1,324.6 362.7,321.6 364.5,318.7 366.5,315.9 370.1,312.2 372.9,310.3 374.4,309.5 379.1,307.8 385.7,306.1 395.7,304.4 406,303.4 423.1,302.3 443.6,301.2 479.6,299.5 481.1,299.5 481.1,402.5Z"/>
<path fill="#b8ff00" d="M358.3,402.5 358.3,401 359.3,355.7 359.8,342.2 360.2,337.2 361.8,330.7 365.5,323.2 367.3,320.4 369.4,317.8 372.9,314.2 374.2,313.1 377,311.3 381.5,309.3 384.6,308.2 392.6,305.9 395.8,305.2 400.8,304.5 414.2,303.3 432.6,302.1 479.6,300 481.1,300 481.1,402.5Z"/>
<path fill="#a3ff00" d="M360.9,402.5 360.9,401 361.9,366.5 362.6,350.1 363.1,340.2 363.8,335.4 364.5,332.2 368.3,324.9 370.1,322.1 372.2,319.6 375.7,316.1 379.6,313.2 383.9,310.8 386.8,309.4 391.4,307.7 396.1,306.3 397.6,305.8 402.5,305 415.6,303.7 433.6,302.5 453.3,301.4 479.6,300.4 481.1,300.4 481.1,402.5Z"/>
<path fill="#00ff00" d="M363.5,402.5 363.5,401 364.8,367.2 365.6,351.2 366.3,339.9 366.9,335.2 367.3,333.6 368,332.1 372,325.2 375,321.4 377.3,319.1 379.7,317 382.2,315 386.2,312.3 391.9,309.3 394.9,308.1 399.4,306.5 404.2,305.6 410.5,304.7 417,304.1 436.2,302.7 453.9,301.8 479.6,300.8 481.1,300.8 481.1,402.5Z"/>
<path fill="#00ff00" d="M368.5,402.5 368.5,401 369,351 369.2,341.6 369.5,336.9 370.8,332.4 372.7,328.1 375.2,324.2 378.5,320.9 381,319 383.8,317.5 386.7,316.3 389.7,315.4 394.3,314.5 402,313.4 423.6,309.8 432.9,308.4 443.7,307.2 453.1,306.4 479.6,304.8 481.1,304.8 481.1,402.5Z"/>
<path fill="#00ff00" d="M371.4,402.5 371.4,401 371.9,351.9 372.1,342.7 372.4,338.1 373.4,333.6 374.4,330.8 375.7,328 377.3,325.4 378.3,324.2 380.5,322.1 383,320.4 385.7,318.9 388.6,317.8 391.5,316.9 396,315.9 403.5,314.7 424.6,310.7 433.7,309.3 444.4,308 453.6,307.2 479.6,305.4 481.1,305.4 481.1,402.5Z"/>
<path fill="#00ff00" d="M374.4,402.5 374.4,401 374.8,352.8 375.2,339.2 376.1,334.8 377.9,329.2 379.3,326.6 381.3,324.4 383.7,322.5 386.3,321 390.5,319.3 393.3,318.4 397.7,317.4 425.7,311.6 434.6,310.2 448.1,308.5 455.6,307.8 479.6,306 481.1,306 481.1,402.5Z"/>
<path fill="#00ff00" d="M377.3,402.5 377.3,401 377.6,356.7 378,340.4 379,334.6 380.1,330.4 381.4,327.8 383.3,325.6 385.6,323.8 388.2,322.4 391,321.3 395.2,319.9 413.8,315.4 426.8,312.6 435.5,311 448.7,309.3 457.5,308.4 479.6,306.6 481.1,306.6 481.1,402.5Z"/>
<path fill="#00ff00" d="M380.2,402.5 380.2,401 380.5,357.5 380.8,341.6 381.5,335.9 382.3,331.7 382.8,330.3 383.4,329.1 385.3,326.8 386.4,325.9 388.9,324.4 391.5,323.3 395.6,321.9 415.2,316.5 429.3,313.2 436.4,311.9 450.7,309.9 462.3,308.7 479.6,307.1 481.1,307.1 481.1,402.5Z"/>
<path fill="#00ff00" d="M383.1,402.5 383.1,401 383.4,358.4 383.7,341.3 384.3,334.3 384.9,331.5 385.5,330.3 387.3,328.1 388.4,327.2 390.8,325.8 396.2,323.8 416.5,317.6 423.4,315.7 430.3,314.1 437.3,312.8 451.3,310.7 462.6,309.4 479.6,307.7 481.1,307.7 481.1,402.5Z"/>
<path fill="#00ff0b" d="M386,402.5 386,401 386.2,359.2 386.6,338.3 386.8,334.1 387,332.8 387.6,331.5 389.3,329.3 390.3,328.4 391.5,327.7 395.4,326.1 417.9,318.7 424.6,316.7 431.3,315 438.2,313.6 451.9,311.5 464.4,309.9 479.6,308.3 481.1,308.3 481.1,402.5Z"/>
<path fill="#00ff21" d="M389.1,402.5 389.1,401 389.3,360.3 389.7,340 390,335.9 390.2,334.6 390.8,333.4 392.3,331.2 393.3,330.3 395.6,328.9 398,327.7 404.3,325.3 419.6,319.8 427.4,317.6 432.7,316.3 438,315.2 446,313.9 458.1,312.1 479.6,309.5 481.1,309.5 481.1,402.5Z"/>
<path fill="#00ff36" d="M392.3,402.5 392.3,401 392.4,361.4 392.7,343 393.2,337.7 393.5,336.4 393.9,335.2 395.4,333 396.3,332.1 398.4,330.6 400.6,329.4 406.5,326.6 411.3,324.6 417.5,322.3 422.5,320.6 427.6,319.1 434,317.6 440.5,316.3 458.7,313.5 479.6,310.6 481.1,310.6 481.1,402.5Z"/>
<path fill="#00ff4c" d="M395.4,402.5 395.4,401 395.5,362.5 395.8,344.6 396.2,340.8 396.7,338.3 397.7,335.9 399.3,333.9 401.2,332.3 403.3,331 408.8,327.9 412.2,326.3 420.5,323 429.1,320.3 435.3,318.9 441.6,317.6 479.6,311.8 481.1,311.8 481.1,402.5Z"/>
<path fill="#00ff62" d="M398.5,402.5 398.5,401 398.6,363.6 399,346.2 399.4,342.5 399.9,340.1 400.9,337.8 402.2,335.8 404,334.1 405.9,332.6 412.1,328.7 417.6,325.9 422.2,324.1 425.8,322.9 431.8,321.2 441.5,319.2 461.2,316.1 479.6,313 481.1,313 481.1,402.5Z"/>
<path fill="#00ff77" d="M401.6,402.5 401.6,401 401.7,361.1 402.1,347.8 402.6,344.3 403.1,341.9 404.5,338.6 406,336.7 407.6,335 410.4,332.7 413.2,330.6 416.3,328.7 420.6,326.6 424,325.2 427.4,324 432.1,322.7 438,321.4 461.8,317.5 479.6,314.1 481.1,314.1 481.1,402.5Z"/>
<path fill="#00ff8d" d="M404.7,402.5 404.7,401 404.7,362.3 405.2,349.5 406,344.9 407.1,341.5 408.2,339.4 410.3,336.7 412.8,334.2 415.5,331.9 418.4,329.9 422.5,327.7 425.7,326.3 429.1,325.2 433.6,323.9 439.3,322.7 461.3,319.1 479.6,315.3 481.1,315.3 481.1,402.5Z"/>
<path fill="#00ffa3" d="M407.9,402.5 407.9,401 407.9,363.5 408.4,351 409.1,346.5 410.1,343.2 411.6,340.2 413.7,337.6 417.8,333.6 420.5,331.6 423.4,329.8 426.4,328.3 431.7,326.3 435,325.4 440.5,324.1 462.9,320.1 479.6,316.6 481.1,316.6 481.1,402.5Z"/>
<path fill="#00ffb8" d="M411,402.5 411,401 411.1,369 411.2,359.1 411.5,352.5 412.2,348.1 413,344.9 414.4,342 416.3,339.3 420,335.3 422.6,333.3 425.3,331.4 428.2,329.9 433.3,327.8 437.5,326.5 441.8,325.5 463.4,321.3 479.6,317.9 481.1,317.9 481.1,402.5Z"/>
<path fill="#00ffce" d="M414.2,402.5 414.2,401 414.2,370 414.4,360.4 414.7,354 415.5,348.7 416.4,345.6 417.7,342.8 418.9,341 420.2,339.4 422.3,337 423.9,335.6 427.2,333 430.9,330.9 434.8,329.3 438.9,327.9 444.1,326.6 468.1,321.7 479.6,319.1 481.1,319.1 481.1,402.5Z"/>
<path fill="#00ffe4" d="M417.4,402.5 417.4,401 417.4,371 417.6,361.7 418,354.5 418.7,349.4 419.6,346.4 421.4,342.8 423.3,340.3 426,337.3 429.2,334.7 432.7,332.5 436.4,330.7 439.3,329.7 443.3,328.5 449.3,327 479.6,320.4 481.1,320.4 481.1,402.5Z"/>
<path fill="#00fffa" d="M420.6,402.5 420.6,401 420.6,372 420.8,363 421.1,356 421.7,351 422.5,348.1 424,344.5 425.6,342 428.2,338.9 431.1,336.3 434.4,334 438,332.2 441.7,330.7 452.3,327.9 479.6,321.7 481.1,321.7 481.1,402.5Z"/>
<path fill="#00efff" d="M423.8,402.5 423.8,401 423.8,373 424,364.3 424.3,357.5 424.8,352.7 425.6,348.9 426.6,346.2 428.6,342.9 430.3,340.6 432.4,338.6 435.4,336.1 439.5,333.7 443.1,332.2 448.6,330.5 457.9,328 479.6,323 481.1,323 481.1,402.5Z"/>
<path fill="#00d9ff" d="M428.3,402.5 428.3,401 428.3,374.1 428.7,359.3 429.2,354.7 429.9,351.1 430.8,348.5 432.5,345.2 434,343 435.8,340.9 438.4,338.4 442,335.8 445.2,334.1 450.3,332.1 459,329.2 467,327.1 479.6,324.1 481.1,324.1 481.1,402.5Z"/>
<path fill="#00c3ff" d="M432.8,402.5 432.8,401 432.8,375.3 433,367.3 433.3,360.3 433.6,356.7 434.2,353.3 435,350.7 436,348.3 437.7,345.3 440.2,341.9 442,340.1 443.9,338.4 447.4,336 451.2,334.1 455.9,332 464.2,329.1 468.4,327.9 479.6,325.2 481.1,325.2 481.1,402.5Z"/>
<path fill="#00aeff" d="M437.3,402.5 437.3,401 437.3,376.5 437.7,363 438,358.7 438.5,355.4 439.1,353 440,350.6 441.3,347.6 443.4,344.2 446.6,340.6 449.6,338 453.6,335.4 457.2,333.5 460.3,332.1 464.9,330.3 469,329 479.6,326.3 481.1,326.3 481.1,402.5Z"/>
<path fill="#0098ff" d="M441.8,402.5 441.8,401 441.9,373.6 442.2,364.8 442.5,360.8 443,356.8 444,352.9 445,350 446.3,347.2 449.2,342.7 451.7,339.9 454.7,337.4 458.6,334.9 462.1,333 465.7,331.4 469.5,330.1 479.6,327.4 481.1,327.4 481.1,402.5Z"/>
<path fill="#0082ff" d="M446.4,402.5 446.4,401 446.4,375.8 446.7,365.8 447.1,360.5 447.5,357.5 448.5,353.1 449.9,348.8 451.8,344.9 453.9,341.8 456.4,339.1 459.9,336.3 463.1,334.3 466.5,332.6 470,331.2 479.6,328.5 481.1,328.5 481.1,402.5Z"/>
<path fill="#006dff" d="M450.9,402.5 450.9,401 450.9,376.4 451.1,368.4 451.5,361.1 452.2,355.4 453.1,351.1 454.4,347 456.1,343.8 458.2,340.8 461.2,337.7 464.1,335.5 467.2,333.7 470.6,332.3 479.6,329.6 481.1,329.6 481.1,402.5Z"/>
<path fill="#0057ff" d="M455.5,402.5 455.5,401 455.5,378.2 455.7,370.9 456,364.2 456.6,358.9 457.3,354.9 458.4,351.1 459.7,348.1 461.4,345.2 463.5,342.7 466.3,340.1 468.9,338.2 471.8,336.6 479.6,333.5 481.1,333.5 481.1,402.5Z"/>
<path fill="#0041ff" d="M460.1,402.5 460.1,401 460.1,380.1 460.5,367.3 461.3,359.9 462.4,355.2 463.4,352.4 464.7,349.7 466.3,347.2 468.6,344.6 470.7,342.6 472.9,340.9 479.6,337.4 481.1,337.4 481.1,402.5Z"/>
<path fill="#002bff" d="M464.8,402.5 464.8,401 464.8,382 464.9,372.5 465.3,365.9 465.7,362.5 466.3,359.3 467,356.7 468,354.1 469.1,351.8 470.8,349.1 472.4,347.1 474.1,345.2 476.1,343.6 479.6,341.2 481.1,341.2 481.1,402.5Z"/>
<path fill="#0016ff" d="M469.4,402.5 469.4,401 469.5,373.4 469.9,366.4 470.7,361 471.9,356.3 473,353.6 474.1,351.5 475.3,349.6 476.5,348.1 479.6,345.1 481.1,345.1 481.1,402.5Z"/>
<path fill="#0000ff" d="M474,402.5 474,401 474.1,371.1 474.4,365.3 474.8,360.8 475.3,357.7 476.5,353.9 477.5,351.9 479.6,349 481.1,349 481.1,402.5Z"/>
<path fill="none" stroke="#000" stroke-opacity=".28" stroke-width=".6" d="M450.9,401 450.9,376.4 451.1,368.4 451.5,361.1 452.2,355.4 453.1,351.1 454.4,347 456.1,343.8 458.2,340.8 461.2,337.7 464.1,335.5 467.2,333.7 470.6,332.3 479.6,329.6M423.8,401 423.8,373 424,364.3 424.3,357.5 424.8,352.7 425.6,348.9 426.6,346.2 428.6,342.9 430.3,340.6 432.4,338.6 435.4,336.1 439.5,333.7 443.1,332.2 448.6,330.5 457.9,328 479.6,323M404.7,401 404.7,362.3 405.2,349.5 406,344.9 407.1,341.5 408.2,339.4 410.3,336.7 412.8,334.2 415.5,331.9 418.4,329.9 422.5,327.7 425.7,326.3 429.1,325.2 433.6,323.9 439.3,322.7 461.3,319.1 479.6,315.3M386,401 386.2,359.2 386.6,338.3 386.8,334.1 387,332.8 387.6,331.5 389.3,329.3 390.3,328.4 391.5,327.7 395.4,326.1 417.9,318.7 424.6,316.7 431.3,315 438.2,313.6 451.9,311.5 464.4,309.9 479.6,308.3M368.5,401 369,351 369.2,341.6 369.5,336.9 370.8,332.4 372.7,328.1 375.2,324.2 378.5,320.9 381,319 383.8,317.5 386.7,316.3 389.7,315.4 394.3,314.5 402,313.4 423.6,309.8 432.9,308.4 443.7,307.2 453.1,306.4 479.6,304.8M350.4,401 350.5,347.4 350.6,338.5 351,333.2 354.8,323.2 357.1,318.3 358.8,315.2 360.9,312.3 363.2,309.6 364.5,308.4 367.5,306.5 369.2,305.8 374.4,304.8 379.8,304.1 408.3,302.3 479.6,298.7M334.8,401 334.8,339.9 335,321 335.5,306.3 336.2,300 338,296.2 340.2,292.6 341.4,290.9 343,289.5 344.9,288.9 347,288.7 357.5,288.1 397.5,286.8 437.5,285.6 479.6,284"/>
<path fill="#fff" fill-rule="evenodd" d="M326.7,254.3H483.6V405H326.7ZM330.7,258.3H479.6V401H330.7Z"/>
<path fill="none" stroke="#000" stroke-opacity=".35" stroke-width=".6" d="M330.7,258.3H479.6V401"/>
<path fill="none" stroke="#666" stroke-width=".7" d="M330.3,258.3 V401.4M330.3,401.4 H479.6M330.3,258.3 h-2.6M330.3,272.5 h-1.3M330.3,269.0 h-1.3M330.3,266.4 h-1.3M330.3,264.4 h-1.3M330.3,262.8 h-1.3M330.3,261.5 h-1.3M330.3,260.3 h-1.3M330.3,259.2 h-1.3M330.3,278.7 h-2.6M330.3,292.9 h-1.3M330.3,289.3 h-1.3M330.3,286.8 h-1.3M330.3,284.8 h-1.3M330.3,283.2 h-1.3M330.3,281.8 h-1.3M330.3,280.7 h-1.3M330.3,279.6 h-1.3M330.3,299.1 h-2.6M330.3,313.3 h-1.3M330.3,309.7 h-1.3M330.3,307.2 h-1.3M330.3,305.2 h-1.3M330.3,303.6 h-1.3M330.3,302.2 h-1.3M330.3,301.0 h-1.3M330.3,300.0 h-1.3M330.3,319.5 h-2.6M330.3,333.7 h-1.3M330.3,330.1 h-1.3M330.3,327.6 h-1.3M330.3,325.6 h-1.3M330.3,324.0 h-1.3M330.3,322.6 h-1.3M330.3,321.4 h-1.3M330.3,320.4 h-1.3M330.3,339.8 h-2.6M330.3,354.1 h-1.3M330.3,350.5 h-1.3M330.3,348.0 h-1.3M330.3,346.0 h-1.3M330.3,344.4 h-1.3M330.3,343.0 h-1.3M330.3,341.8 h-1.3M330.3,340.8 h-1.3M330.3,360.2 h-2.6M330.3,374.5 h-1.3M330.3,370.9 h-1.3M330.3,368.3 h-1.3M330.3,366.4 h-1.3M330.3,364.8 h-1.3M330.3,363.4 h-1.3M330.3,362.2 h-1.3M330.3,361.2 h-1.3M330.3,380.6 h-2.6M330.3,394.9 h-1.3M330.3,391.3 h-1.3M330.3,388.7 h-1.3M330.3,386.8 h-1.3M330.3,385.1 h-1.3M330.3,383.8 h-1.3M330.3,382.6 h-1.3M330.3,381.5 h-1.3M330.3,401.0 h-2.6M362.0,401.4 v2.6M401.2,401.4 v2.6M440.4,401.4 v2.6M479.6,401.4 v2.6M342.5,401.4 v1.4M381.6,401.4 v1.4M420.8,401.4 v1.4M460.0,401.4 v1.4"/>
<g class="tk"><text transform="translate(326.1,261.3) scale(.95,1)" text-anchor="end">1E19</text><text transform="translate(326.1,281.7) scale(.95,1)" text-anchor="end">1E18</text><text transform="translate(326.1,302.1) scale(.95,1)" text-anchor="end">1E17</text><text transform="translate(326.1,322.5) scale(.95,1)" text-anchor="end">1E16</text><text transform="translate(326.1,342.8) scale(.95,1)" text-anchor="end">1E15</text><text transform="translate(326.1,363.2) scale(.95,1)" text-anchor="end">1E14</text><text transform="translate(326.1,383.6) scale(.95,1)" text-anchor="end">1E13</text><text transform="translate(326.1,404.0) scale(.95,1)" text-anchor="end">1E12</text><text transform="translate(362.0,412.2) scale(.95,1)" text-anchor="middle">0.05</text><text transform="translate(401.2,412.2) scale(.95,1)" text-anchor="middle">0.10</text><text transform="translate(440.4,412.2) scale(.95,1)" text-anchor="middle">0.15</text><text transform="translate(479.6,412.2) scale(.95,1)" text-anchor="middle">0.20</text></g>
<text transform="translate(300.2,329.6) rotate(-90)" text-anchor="middle" font-size="9.7">Carrier concentration (cm<tspan font-size="6.3" dy="-3.9">-3</tspan><tspan dy="3.9">)</tspan></text>
<text x="404.7" y="427.6" text-anchor="middle" font-size="9.7">Layer thickness (&#956;m)</text>
<text x="409.1" y="250.7" text-anchor="middle" font-size="14.2">(d)</text>
<g class="tk" text-anchor="middle" opacity=".88" style="font-size:8.6px"><text transform="translate(396.1,267.2) scale(1,1)">82.17</text><text transform="translate(370.5,281.1) scale(1,1)">81.41</text><text transform="translate(441.3,288.7) scale(1,1)">80.27</text><text transform="translate(386.5,306.7) scale(1,1)">77.99</text><text transform="translate(368.2,338) scale(1,1)">75.71</text><text transform="translate(397,330.6) scale(1,1)">73.43</text><text transform="translate(445.7,325.3) scale(1,1)">71.14</text><text transform="translate(429.1,344.9) scale(1,1)">68.86</text><text transform="translate(450.6,377.3) scale(1,1)">66.58</text></g>
<rect x="503.3" y="398.03" width="10.3" height="2.97" fill="#0000ff"/>
<rect x="503.3" y="395.05" width="10.3" height="3.27" fill="#0016ff"/>
<rect x="503.3" y="392.08" width="10.3" height="3.27" fill="#002bff"/>
<rect x="503.3" y="389.11" width="10.3" height="3.27" fill="#0041ff"/>
<rect x="503.3" y="386.14" width="10.3" height="3.27" fill="#0057ff"/>
<rect x="503.3" y="383.16" width="10.3" height="3.27" fill="#006dff"/>
<rect x="503.3" y="380.19" width="10.3" height="3.27" fill="#0082ff"/>
<rect x="503.3" y="377.22" width="10.3" height="3.27" fill="#0098ff"/>
<rect x="503.3" y="374.24" width="10.3" height="3.27" fill="#00aeff"/>
<rect x="503.3" y="371.27" width="10.3" height="3.27" fill="#00c3ff"/>
<rect x="503.3" y="368.30" width="10.3" height="3.27" fill="#00d9ff"/>
<rect x="503.3" y="365.32" width="10.3" height="3.27" fill="#00efff"/>
<rect x="503.3" y="362.35" width="10.3" height="3.27" fill="#00fffa"/>
<rect x="503.3" y="359.38" width="10.3" height="3.27" fill="#00ffe4"/>
<rect x="503.3" y="356.41" width="10.3" height="3.27" fill="#00ffce"/>
<rect x="503.3" y="353.43" width="10.3" height="3.27" fill="#00ffb8"/>
<rect x="503.3" y="350.46" width="10.3" height="3.27" fill="#00ffa3"/>
<rect x="503.3" y="347.49" width="10.3" height="3.27" fill="#00ff8d"/>
<rect x="503.3" y="344.51" width="10.3" height="3.27" fill="#00ff77"/>
<rect x="503.3" y="341.54" width="10.3" height="3.27" fill="#00ff62"/>
<rect x="503.3" y="338.57" width="10.3" height="3.27" fill="#00ff4c"/>
<rect x="503.3" y="335.60" width="10.3" height="3.27" fill="#00ff36"/>
<rect x="503.3" y="332.62" width="10.3" height="3.27" fill="#00ff21"/>
<rect x="503.3" y="329.65" width="10.3" height="3.27" fill="#00ff0b"/>
<rect x="503.3" y="326.68" width="10.3" height="3.27" fill="#00ff00"/>
<rect x="503.3" y="323.70" width="10.3" height="3.27" fill="#00ff00"/>
<rect x="503.3" y="320.73" width="10.3" height="3.27" fill="#00ff00"/>
<rect x="503.3" y="317.76" width="10.3" height="3.27" fill="#00ff00"/>
<rect x="503.3" y="314.79" width="10.3" height="3.27" fill="#00ff00"/>
<rect x="503.3" y="311.81" width="10.3" height="3.27" fill="#00ff00"/>
<rect x="503.3" y="308.84" width="10.3" height="3.27" fill="#00ff00"/>
<rect x="503.3" y="305.87" width="10.3" height="3.27" fill="#a3ff00"/>
<rect x="503.3" y="302.89" width="10.3" height="3.27" fill="#b8ff00"/>
<rect x="503.3" y="299.92" width="10.3" height="3.27" fill="#ceff00"/>
<rect x="503.3" y="296.95" width="10.3" height="3.27" fill="#e4ff00"/>
<rect x="503.3" y="293.98" width="10.3" height="3.27" fill="#faff00"/>
<rect x="503.3" y="291.00" width="10.3" height="3.27" fill="#ffef00"/>
<rect x="503.3" y="288.03" width="10.3" height="3.27" fill="#ffd900"/>
<rect x="503.3" y="285.06" width="10.3" height="3.27" fill="#ffc300"/>
<rect x="503.3" y="282.08" width="10.3" height="3.27" fill="#ffae00"/>
<rect x="503.3" y="279.11" width="10.3" height="3.27" fill="#ff9800"/>
<rect x="503.3" y="276.14" width="10.3" height="3.27" fill="#ff8200"/>
<rect x="503.3" y="273.16" width="10.3" height="3.27" fill="#ff6d00"/>
<rect x="503.3" y="270.19" width="10.3" height="3.27" fill="#ff5700"/>
<rect x="503.3" y="267.22" width="10.3" height="3.27" fill="#ff4100"/>
<rect x="503.3" y="264.25" width="10.3" height="3.27" fill="#ff2b00"/>
<rect x="503.3" y="261.27" width="10.3" height="3.27" fill="#ff1600"/>
<rect x="503.3" y="258.30" width="10.3" height="3.27" fill="#ff0000"/>
<line x1="513.6" x2="515.8" y1="401.0" y2="401.0" stroke="#667" stroke-width=".7"/>
<line x1="513.6" x2="515.8" y1="383.2" y2="383.2" stroke="#667" stroke-width=".7"/>
<line x1="513.6" x2="515.8" y1="365.3" y2="365.3" stroke="#667" stroke-width=".7"/>
<line x1="513.6" x2="515.8" y1="347.5" y2="347.5" stroke="#667" stroke-width=".7"/>
<line x1="513.6" x2="515.8" y1="329.6" y2="329.6" stroke="#667" stroke-width=".7"/>
<line x1="513.6" x2="515.8" y1="311.8" y2="311.8" stroke="#667" stroke-width=".7"/>
<line x1="513.6" x2="515.8" y1="294.0" y2="294.0" stroke="#667" stroke-width=".7"/>
<line x1="513.6" x2="515.8" y1="276.1" y2="276.1" stroke="#667" stroke-width=".7"/>
<line x1="513.6" x2="515.8" y1="258.3" y2="258.3" stroke="#667" stroke-width=".7"/>
<g class="tk" style="font-size:8.7px"><text transform="translate(518.4,404.1) scale(1,1)">64.30</text><text transform="translate(518.4,386.3) scale(1,1)">66.58</text><text transform="translate(518.4,368.4) scale(1,1)">68.86</text><text transform="translate(518.4,350.6) scale(1,1)">71.14</text><text transform="translate(518.4,332.8) scale(1,1)">73.43</text><text transform="translate(518.4,314.9) scale(1,1)">75.71</text><text transform="translate(518.4,297.1) scale(1,1)">77.99</text><text transform="translate(518.4,279.3) scale(1,1)">80.27</text><text transform="translate(518.4,261.4) scale(1,1)">82.55</text></g>
<text x="501.8" y="248.3" font-size="9.5">FF (%)</text></g>
</svg>
</body></html>
